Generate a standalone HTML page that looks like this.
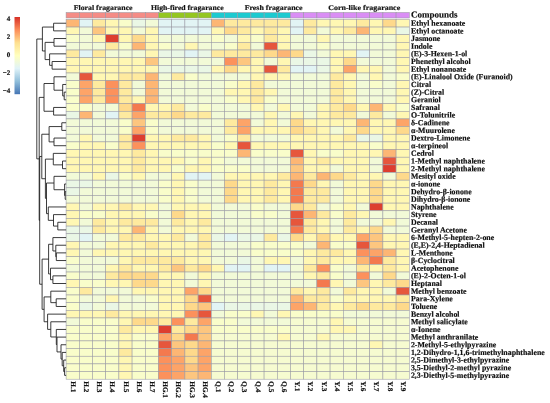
<!DOCTYPE html><html><head><meta charset="utf-8"><title>Heatmap</title>
<style>html,body{margin:0;padding:0;background:#fff}svg{display:block}text{font-family:"Liberation Serif",serif;font-weight:bold;fill:#111;stroke:#111;stroke-width:0.18px;text-rendering:geometricPrecision}</style></head><body>
<svg width="550" height="403" viewBox="0 0 550 403">
<rect width="550" height="403" fill="#fff"/>
<defs><linearGradient id="lg" x1="0" y1="0" x2="0" y2="1">
<stop offset="0.0000" stop-color="#D73027"/>
<stop offset="0.1667" stop-color="#FC8D59"/>
<stop offset="0.3333" stop-color="#FEE090"/>
<stop offset="0.5000" stop-color="#FFFFBF"/>
<stop offset="0.6667" stop-color="#E0F3F8"/>
<stop offset="0.8333" stop-color="#91BFDB"/>
<stop offset="1.0000" stop-color="#4575B4"/>
</linearGradient></defs>
<rect x="14.5" y="17.0" width="5.5" height="77.2" fill="url(#lg)"/>
<text x="10.3" y="20.80" font-size="7" text-anchor="end">4</text>
<text x="10.3" y="38.80" font-size="7" text-anchor="end">2</text>
<text x="10.3" y="56.80" font-size="7" text-anchor="end">0</text>
<text x="10.3" y="74.80" font-size="7" text-anchor="end">−2</text>
<text x="10.3" y="92.80" font-size="7" text-anchor="end">−4</text>
<rect x="66.10" y="12.5" width="13.20" height="5.5" fill="#F58C86" stroke="#9a9aa4" stroke-width="0.55"/>
<rect x="79.30" y="12.5" width="13.20" height="5.5" fill="#F58C86" stroke="#9a9aa4" stroke-width="0.55"/>
<rect x="92.50" y="12.5" width="13.20" height="5.5" fill="#F58C86" stroke="#9a9aa4" stroke-width="0.55"/>
<rect x="105.70" y="12.5" width="13.20" height="5.5" fill="#F58C86" stroke="#9a9aa4" stroke-width="0.55"/>
<rect x="118.90" y="12.5" width="13.20" height="5.5" fill="#F58C86" stroke="#9a9aa4" stroke-width="0.55"/>
<rect x="132.10" y="12.5" width="13.20" height="5.5" fill="#F58C86" stroke="#9a9aa4" stroke-width="0.55"/>
<rect x="145.30" y="12.5" width="13.20" height="5.5" fill="#F58C86" stroke="#9a9aa4" stroke-width="0.55"/>
<rect x="158.50" y="12.5" width="13.20" height="5.5" fill="#94C620" stroke="#9a9aa4" stroke-width="0.55"/>
<rect x="171.70" y="12.5" width="13.20" height="5.5" fill="#94C620" stroke="#9a9aa4" stroke-width="0.55"/>
<rect x="184.90" y="12.5" width="13.20" height="5.5" fill="#94C620" stroke="#9a9aa4" stroke-width="0.55"/>
<rect x="198.10" y="12.5" width="13.20" height="5.5" fill="#94C620" stroke="#9a9aa4" stroke-width="0.55"/>
<rect x="211.30" y="12.5" width="13.20" height="5.5" fill="#1CCAD0" stroke="#9a9aa4" stroke-width="0.55"/>
<rect x="224.50" y="12.5" width="13.20" height="5.5" fill="#1CCAD0" stroke="#9a9aa4" stroke-width="0.55"/>
<rect x="237.70" y="12.5" width="13.20" height="5.5" fill="#1CCAD0" stroke="#9a9aa4" stroke-width="0.55"/>
<rect x="250.90" y="12.5" width="13.20" height="5.5" fill="#1CCAD0" stroke="#9a9aa4" stroke-width="0.55"/>
<rect x="264.10" y="12.5" width="13.20" height="5.5" fill="#1CCAD0" stroke="#9a9aa4" stroke-width="0.55"/>
<rect x="277.30" y="12.5" width="13.20" height="5.5" fill="#1CCAD0" stroke="#9a9aa4" stroke-width="0.55"/>
<rect x="290.50" y="12.5" width="13.20" height="5.5" fill="#DA8EF5" stroke="#9a9aa4" stroke-width="0.55"/>
<rect x="303.70" y="12.5" width="13.20" height="5.5" fill="#DA8EF5" stroke="#9a9aa4" stroke-width="0.55"/>
<rect x="316.90" y="12.5" width="13.20" height="5.5" fill="#DA8EF5" stroke="#9a9aa4" stroke-width="0.55"/>
<rect x="330.10" y="12.5" width="13.20" height="5.5" fill="#DA8EF5" stroke="#9a9aa4" stroke-width="0.55"/>
<rect x="343.30" y="12.5" width="13.20" height="5.5" fill="#DA8EF5" stroke="#9a9aa4" stroke-width="0.55"/>
<rect x="356.50" y="12.5" width="13.20" height="5.5" fill="#DA8EF5" stroke="#9a9aa4" stroke-width="0.55"/>
<rect x="369.70" y="12.5" width="13.20" height="5.5" fill="#DA8EF5" stroke="#9a9aa4" stroke-width="0.55"/>
<rect x="382.90" y="12.5" width="13.20" height="5.5" fill="#DA8EF5" stroke="#9a9aa4" stroke-width="0.55"/>
<rect x="396.10" y="12.5" width="13.20" height="5.5" fill="#DA8EF5" stroke="#9a9aa4" stroke-width="0.55"/>
<text x="103.15" y="9.7" font-size="7.2" text-anchor="middle" textLength="58.9" lengthAdjust="spacingAndGlyphs">Floral fragarance</text>
<text x="187.30" y="9.7" font-size="7.2" text-anchor="middle" textLength="72.6" lengthAdjust="spacingAndGlyphs">High-fired fragarance</text>
<text x="273.65" y="9.7" font-size="7.2" text-anchor="middle" textLength="57.9" lengthAdjust="spacingAndGlyphs">Fresh fragarance</text>
<text x="364.20" y="9.7" font-size="7.2" text-anchor="middle" textLength="72.0" lengthAdjust="spacingAndGlyphs">Corn-like fragarance</text>
<rect x="66.10" y="19.40" width="13.20" height="7.66" fill="#fdb674" stroke="#9a9aa4" stroke-width="0.55"/>
<rect x="79.30" y="19.40" width="13.20" height="7.66" fill="#e2f4f4" stroke="#9a9aa4" stroke-width="0.55"/>
<rect x="92.50" y="19.40" width="13.20" height="7.66" fill="#feea9f" stroke="#9a9aa4" stroke-width="0.55"/>
<rect x="105.70" y="19.40" width="13.20" height="7.66" fill="#fff7b3" stroke="#9a9aa4" stroke-width="0.55"/>
<rect x="118.90" y="19.40" width="13.20" height="7.66" fill="#f9fdca" stroke="#9a9aa4" stroke-width="0.55"/>
<rect x="132.10" y="19.40" width="13.20" height="7.66" fill="#eaf7e5" stroke="#9a9aa4" stroke-width="0.55"/>
<rect x="145.30" y="19.40" width="13.20" height="7.66" fill="#f2fad7" stroke="#9a9aa4" stroke-width="0.55"/>
<rect x="158.50" y="19.40" width="13.20" height="7.66" fill="#e2f4f4" stroke="#9a9aa4" stroke-width="0.55"/>
<rect x="171.70" y="19.40" width="13.20" height="7.66" fill="#e2f4f4" stroke="#9a9aa4" stroke-width="0.55"/>
<rect x="184.90" y="19.40" width="13.20" height="7.66" fill="#e2f4f4" stroke="#9a9aa4" stroke-width="0.55"/>
<rect x="198.10" y="19.40" width="13.20" height="7.66" fill="#e2f4f4" stroke="#9a9aa4" stroke-width="0.55"/>
<rect x="211.30" y="19.40" width="13.20" height="7.66" fill="#fdb674" stroke="#9a9aa4" stroke-width="0.55"/>
<rect x="224.50" y="19.40" width="13.20" height="7.66" fill="#feea9f" stroke="#9a9aa4" stroke-width="0.55"/>
<rect x="237.70" y="19.40" width="13.20" height="7.66" fill="#feea9f" stroke="#9a9aa4" stroke-width="0.55"/>
<rect x="250.90" y="19.40" width="13.20" height="7.66" fill="#feea9f" stroke="#9a9aa4" stroke-width="0.55"/>
<rect x="264.10" y="19.40" width="13.20" height="7.66" fill="#feea9f" stroke="#9a9aa4" stroke-width="0.55"/>
<rect x="277.30" y="19.40" width="13.20" height="7.66" fill="#feea9f" stroke="#9a9aa4" stroke-width="0.55"/>
<rect x="290.50" y="19.40" width="13.20" height="7.66" fill="#e2f4f4" stroke="#9a9aa4" stroke-width="0.55"/>
<rect x="303.70" y="19.40" width="13.20" height="7.66" fill="#feea9f" stroke="#9a9aa4" stroke-width="0.55"/>
<rect x="316.90" y="19.40" width="13.20" height="7.66" fill="#fff7b3" stroke="#9a9aa4" stroke-width="0.55"/>
<rect x="330.10" y="19.40" width="13.20" height="7.66" fill="#fff7b3" stroke="#9a9aa4" stroke-width="0.55"/>
<rect x="343.30" y="19.40" width="13.20" height="7.66" fill="#fff7b3" stroke="#9a9aa4" stroke-width="0.55"/>
<rect x="356.50" y="19.40" width="13.20" height="7.66" fill="#feea9f" stroke="#9a9aa4" stroke-width="0.55"/>
<rect x="369.70" y="19.40" width="13.20" height="7.66" fill="#fff7b3" stroke="#9a9aa4" stroke-width="0.55"/>
<rect x="382.90" y="19.40" width="13.20" height="7.66" fill="#fed98b" stroke="#9a9aa4" stroke-width="0.55"/>
<rect x="396.10" y="19.40" width="13.20" height="7.66" fill="#fff7b3" stroke="#9a9aa4" stroke-width="0.55"/>
<rect x="66.10" y="27.06" width="13.20" height="7.66" fill="#fff7b3" stroke="#9a9aa4" stroke-width="0.55"/>
<rect x="79.30" y="27.06" width="13.20" height="7.66" fill="#f2fad7" stroke="#9a9aa4" stroke-width="0.55"/>
<rect x="92.50" y="27.06" width="13.20" height="7.66" fill="#fdc67f" stroke="#9a9aa4" stroke-width="0.55"/>
<rect x="105.70" y="27.06" width="13.20" height="7.66" fill="#fff7b3" stroke="#9a9aa4" stroke-width="0.55"/>
<rect x="118.90" y="27.06" width="13.20" height="7.66" fill="#fff7b3" stroke="#9a9aa4" stroke-width="0.55"/>
<rect x="132.10" y="27.06" width="13.20" height="7.66" fill="#f2fad7" stroke="#9a9aa4" stroke-width="0.55"/>
<rect x="145.30" y="27.06" width="13.20" height="7.66" fill="#fff7b3" stroke="#9a9aa4" stroke-width="0.55"/>
<rect x="158.50" y="27.06" width="13.20" height="7.66" fill="#e2f4f4" stroke="#9a9aa4" stroke-width="0.55"/>
<rect x="171.70" y="27.06" width="13.20" height="7.66" fill="#e2f4f4" stroke="#9a9aa4" stroke-width="0.55"/>
<rect x="184.90" y="27.06" width="13.20" height="7.66" fill="#e2f4f4" stroke="#9a9aa4" stroke-width="0.55"/>
<rect x="198.10" y="27.06" width="13.20" height="7.66" fill="#e2f4f4" stroke="#9a9aa4" stroke-width="0.55"/>
<rect x="211.30" y="27.06" width="13.20" height="7.66" fill="#fff7b3" stroke="#9a9aa4" stroke-width="0.55"/>
<rect x="224.50" y="27.06" width="13.20" height="7.66" fill="#fed98b" stroke="#9a9aa4" stroke-width="0.55"/>
<rect x="237.70" y="27.06" width="13.20" height="7.66" fill="#feea9f" stroke="#9a9aa4" stroke-width="0.55"/>
<rect x="250.90" y="27.06" width="13.20" height="7.66" fill="#fff7b3" stroke="#9a9aa4" stroke-width="0.55"/>
<rect x="264.10" y="27.06" width="13.20" height="7.66" fill="#feea9f" stroke="#9a9aa4" stroke-width="0.55"/>
<rect x="277.30" y="27.06" width="13.20" height="7.66" fill="#fff7b3" stroke="#9a9aa4" stroke-width="0.55"/>
<rect x="290.50" y="27.06" width="13.20" height="7.66" fill="#e2f4f4" stroke="#9a9aa4" stroke-width="0.55"/>
<rect x="303.70" y="27.06" width="13.20" height="7.66" fill="#feea9f" stroke="#9a9aa4" stroke-width="0.55"/>
<rect x="316.90" y="27.06" width="13.20" height="7.66" fill="#f2fad7" stroke="#9a9aa4" stroke-width="0.55"/>
<rect x="330.10" y="27.06" width="13.20" height="7.66" fill="#fff7b3" stroke="#9a9aa4" stroke-width="0.55"/>
<rect x="343.30" y="27.06" width="13.20" height="7.66" fill="#feea9f" stroke="#9a9aa4" stroke-width="0.55"/>
<rect x="356.50" y="27.06" width="13.20" height="7.66" fill="#fdb674" stroke="#9a9aa4" stroke-width="0.55"/>
<rect x="369.70" y="27.06" width="13.20" height="7.66" fill="#fff7b3" stroke="#9a9aa4" stroke-width="0.55"/>
<rect x="382.90" y="27.06" width="13.20" height="7.66" fill="#fff7b3" stroke="#9a9aa4" stroke-width="0.55"/>
<rect x="396.10" y="27.06" width="13.20" height="7.66" fill="#eaf7e5" stroke="#9a9aa4" stroke-width="0.55"/>
<rect x="66.10" y="34.71" width="13.20" height="7.66" fill="#f9fdca" stroke="#9a9aa4" stroke-width="0.55"/>
<rect x="79.30" y="34.71" width="13.20" height="7.66" fill="#f2fad7" stroke="#9a9aa4" stroke-width="0.55"/>
<rect x="92.50" y="34.71" width="13.20" height="7.66" fill="#fff7b3" stroke="#9a9aa4" stroke-width="0.55"/>
<rect x="105.70" y="34.71" width="13.20" height="7.66" fill="#dd3e2f" stroke="#9a9aa4" stroke-width="0.55"/>
<rect x="118.90" y="34.71" width="13.20" height="7.66" fill="#fff7b3" stroke="#9a9aa4" stroke-width="0.55"/>
<rect x="132.10" y="34.71" width="13.20" height="7.66" fill="#fed98b" stroke="#9a9aa4" stroke-width="0.55"/>
<rect x="145.30" y="34.71" width="13.20" height="7.66" fill="#fff7b3" stroke="#9a9aa4" stroke-width="0.55"/>
<rect x="158.50" y="34.71" width="13.20" height="7.66" fill="#f2fad7" stroke="#9a9aa4" stroke-width="0.55"/>
<rect x="171.70" y="34.71" width="13.20" height="7.66" fill="#f2fad7" stroke="#9a9aa4" stroke-width="0.55"/>
<rect x="184.90" y="34.71" width="13.20" height="7.66" fill="#f2fad7" stroke="#9a9aa4" stroke-width="0.55"/>
<rect x="198.10" y="34.71" width="13.20" height="7.66" fill="#f2fad7" stroke="#9a9aa4" stroke-width="0.55"/>
<rect x="211.30" y="34.71" width="13.20" height="7.66" fill="#f9fdca" stroke="#9a9aa4" stroke-width="0.55"/>
<rect x="224.50" y="34.71" width="13.20" height="7.66" fill="#f2fad7" stroke="#9a9aa4" stroke-width="0.55"/>
<rect x="237.70" y="34.71" width="13.20" height="7.66" fill="#fff7b3" stroke="#9a9aa4" stroke-width="0.55"/>
<rect x="250.90" y="34.71" width="13.20" height="7.66" fill="#f9fdca" stroke="#9a9aa4" stroke-width="0.55"/>
<rect x="264.10" y="34.71" width="13.20" height="7.66" fill="#feea9f" stroke="#9a9aa4" stroke-width="0.55"/>
<rect x="277.30" y="34.71" width="13.20" height="7.66" fill="#fff7b3" stroke="#9a9aa4" stroke-width="0.55"/>
<rect x="290.50" y="34.71" width="13.20" height="7.66" fill="#f2fad7" stroke="#9a9aa4" stroke-width="0.55"/>
<rect x="303.70" y="34.71" width="13.20" height="7.66" fill="#f2fad7" stroke="#9a9aa4" stroke-width="0.55"/>
<rect x="316.90" y="34.71" width="13.20" height="7.66" fill="#fff7b3" stroke="#9a9aa4" stroke-width="0.55"/>
<rect x="330.10" y="34.71" width="13.20" height="7.66" fill="#f2fad7" stroke="#9a9aa4" stroke-width="0.55"/>
<rect x="343.30" y="34.71" width="13.20" height="7.66" fill="#f2fad7" stroke="#9a9aa4" stroke-width="0.55"/>
<rect x="356.50" y="34.71" width="13.20" height="7.66" fill="#f2fad7" stroke="#9a9aa4" stroke-width="0.55"/>
<rect x="369.70" y="34.71" width="13.20" height="7.66" fill="#f2fad7" stroke="#9a9aa4" stroke-width="0.55"/>
<rect x="382.90" y="34.71" width="13.20" height="7.66" fill="#f2fad7" stroke="#9a9aa4" stroke-width="0.55"/>
<rect x="396.10" y="34.71" width="13.20" height="7.66" fill="#fff7b3" stroke="#9a9aa4" stroke-width="0.55"/>
<rect x="66.10" y="42.37" width="13.20" height="7.66" fill="#f2fad7" stroke="#9a9aa4" stroke-width="0.55"/>
<rect x="79.30" y="42.37" width="13.20" height="7.66" fill="#f2fad7" stroke="#9a9aa4" stroke-width="0.55"/>
<rect x="92.50" y="42.37" width="13.20" height="7.66" fill="#f2fad7" stroke="#9a9aa4" stroke-width="0.55"/>
<rect x="105.70" y="42.37" width="13.20" height="7.66" fill="#feea9f" stroke="#9a9aa4" stroke-width="0.55"/>
<rect x="118.90" y="42.37" width="13.20" height="7.66" fill="#f9fdca" stroke="#9a9aa4" stroke-width="0.55"/>
<rect x="132.10" y="42.37" width="13.20" height="7.66" fill="#fdb674" stroke="#9a9aa4" stroke-width="0.55"/>
<rect x="145.30" y="42.37" width="13.20" height="7.66" fill="#fff7b3" stroke="#9a9aa4" stroke-width="0.55"/>
<rect x="158.50" y="42.37" width="13.20" height="7.66" fill="#f9fdca" stroke="#9a9aa4" stroke-width="0.55"/>
<rect x="171.70" y="42.37" width="13.20" height="7.66" fill="#f2fad7" stroke="#9a9aa4" stroke-width="0.55"/>
<rect x="184.90" y="42.37" width="13.20" height="7.66" fill="#fff7b3" stroke="#9a9aa4" stroke-width="0.55"/>
<rect x="198.10" y="42.37" width="13.20" height="7.66" fill="#f2fad7" stroke="#9a9aa4" stroke-width="0.55"/>
<rect x="211.30" y="42.37" width="13.20" height="7.66" fill="#f2fad7" stroke="#9a9aa4" stroke-width="0.55"/>
<rect x="224.50" y="42.37" width="13.20" height="7.66" fill="#f9fdca" stroke="#9a9aa4" stroke-width="0.55"/>
<rect x="237.70" y="42.37" width="13.20" height="7.66" fill="#feea9f" stroke="#9a9aa4" stroke-width="0.55"/>
<rect x="250.90" y="42.37" width="13.20" height="7.66" fill="#f2fad7" stroke="#9a9aa4" stroke-width="0.55"/>
<rect x="264.10" y="42.37" width="13.20" height="7.66" fill="#e6563c" stroke="#9a9aa4" stroke-width="0.55"/>
<rect x="277.30" y="42.37" width="13.20" height="7.66" fill="#fff7b3" stroke="#9a9aa4" stroke-width="0.55"/>
<rect x="290.50" y="42.37" width="13.20" height="7.66" fill="#f2fad7" stroke="#9a9aa4" stroke-width="0.55"/>
<rect x="303.70" y="42.37" width="13.20" height="7.66" fill="#f2fad7" stroke="#9a9aa4" stroke-width="0.55"/>
<rect x="316.90" y="42.37" width="13.20" height="7.66" fill="#f9fdca" stroke="#9a9aa4" stroke-width="0.55"/>
<rect x="330.10" y="42.37" width="13.20" height="7.66" fill="#f2fad7" stroke="#9a9aa4" stroke-width="0.55"/>
<rect x="343.30" y="42.37" width="13.20" height="7.66" fill="#f2fad7" stroke="#9a9aa4" stroke-width="0.55"/>
<rect x="356.50" y="42.37" width="13.20" height="7.66" fill="#f2fad7" stroke="#9a9aa4" stroke-width="0.55"/>
<rect x="369.70" y="42.37" width="13.20" height="7.66" fill="#f2fad7" stroke="#9a9aa4" stroke-width="0.55"/>
<rect x="382.90" y="42.37" width="13.20" height="7.66" fill="#f2fad7" stroke="#9a9aa4" stroke-width="0.55"/>
<rect x="396.10" y="42.37" width="13.20" height="7.66" fill="#fff7b3" stroke="#9a9aa4" stroke-width="0.55"/>
<rect x="66.10" y="50.02" width="13.20" height="7.66" fill="#feea9f" stroke="#9a9aa4" stroke-width="0.55"/>
<rect x="79.30" y="50.02" width="13.20" height="7.66" fill="#e2f4f4" stroke="#9a9aa4" stroke-width="0.55"/>
<rect x="92.50" y="50.02" width="13.20" height="7.66" fill="#feea9f" stroke="#9a9aa4" stroke-width="0.55"/>
<rect x="105.70" y="50.02" width="13.20" height="7.66" fill="#f2fad7" stroke="#9a9aa4" stroke-width="0.55"/>
<rect x="118.90" y="50.02" width="13.20" height="7.66" fill="#f2fad7" stroke="#9a9aa4" stroke-width="0.55"/>
<rect x="132.10" y="50.02" width="13.20" height="7.66" fill="#f2fad7" stroke="#9a9aa4" stroke-width="0.55"/>
<rect x="145.30" y="50.02" width="13.20" height="7.66" fill="#fff7b3" stroke="#9a9aa4" stroke-width="0.55"/>
<rect x="158.50" y="50.02" width="13.20" height="7.66" fill="#eaf7e5" stroke="#9a9aa4" stroke-width="0.55"/>
<rect x="171.70" y="50.02" width="13.20" height="7.66" fill="#eaf7e5" stroke="#9a9aa4" stroke-width="0.55"/>
<rect x="184.90" y="50.02" width="13.20" height="7.66" fill="#e2f4f4" stroke="#9a9aa4" stroke-width="0.55"/>
<rect x="198.10" y="50.02" width="13.20" height="7.66" fill="#eaf7e5" stroke="#9a9aa4" stroke-width="0.55"/>
<rect x="211.30" y="50.02" width="13.20" height="7.66" fill="#feea9f" stroke="#9a9aa4" stroke-width="0.55"/>
<rect x="224.50" y="50.02" width="13.20" height="7.66" fill="#feea9f" stroke="#9a9aa4" stroke-width="0.55"/>
<rect x="237.70" y="50.02" width="13.20" height="7.66" fill="#feea9f" stroke="#9a9aa4" stroke-width="0.55"/>
<rect x="250.90" y="50.02" width="13.20" height="7.66" fill="#feea9f" stroke="#9a9aa4" stroke-width="0.55"/>
<rect x="264.10" y="50.02" width="13.20" height="7.66" fill="#fed98b" stroke="#9a9aa4" stroke-width="0.55"/>
<rect x="277.30" y="50.02" width="13.20" height="7.66" fill="#fdb674" stroke="#9a9aa4" stroke-width="0.55"/>
<rect x="290.50" y="50.02" width="13.20" height="7.66" fill="#fed98b" stroke="#9a9aa4" stroke-width="0.55"/>
<rect x="303.70" y="50.02" width="13.20" height="7.66" fill="#eaf7e5" stroke="#9a9aa4" stroke-width="0.55"/>
<rect x="316.90" y="50.02" width="13.20" height="7.66" fill="#f2fad7" stroke="#9a9aa4" stroke-width="0.55"/>
<rect x="330.10" y="50.02" width="13.20" height="7.66" fill="#fff7b3" stroke="#9a9aa4" stroke-width="0.55"/>
<rect x="343.30" y="50.02" width="13.20" height="7.66" fill="#fff7b3" stroke="#9a9aa4" stroke-width="0.55"/>
<rect x="356.50" y="50.02" width="13.20" height="7.66" fill="#e2f4f4" stroke="#9a9aa4" stroke-width="0.55"/>
<rect x="369.70" y="50.02" width="13.20" height="7.66" fill="#f2fad7" stroke="#9a9aa4" stroke-width="0.55"/>
<rect x="382.90" y="50.02" width="13.20" height="7.66" fill="#f2fad7" stroke="#9a9aa4" stroke-width="0.55"/>
<rect x="396.10" y="50.02" width="13.20" height="7.66" fill="#fff7b3" stroke="#9a9aa4" stroke-width="0.55"/>
<rect x="66.10" y="57.68" width="13.20" height="7.66" fill="#fff7b3" stroke="#9a9aa4" stroke-width="0.55"/>
<rect x="79.30" y="57.68" width="13.20" height="7.66" fill="#fff7b3" stroke="#9a9aa4" stroke-width="0.55"/>
<rect x="92.50" y="57.68" width="13.20" height="7.66" fill="#fff7b3" stroke="#9a9aa4" stroke-width="0.55"/>
<rect x="105.70" y="57.68" width="13.20" height="7.66" fill="#fff7b3" stroke="#9a9aa4" stroke-width="0.55"/>
<rect x="118.90" y="57.68" width="13.20" height="7.66" fill="#fff7b3" stroke="#9a9aa4" stroke-width="0.55"/>
<rect x="132.10" y="57.68" width="13.20" height="7.66" fill="#fff7b3" stroke="#9a9aa4" stroke-width="0.55"/>
<rect x="145.30" y="57.68" width="13.20" height="7.66" fill="#fdc67f" stroke="#9a9aa4" stroke-width="0.55"/>
<rect x="158.50" y="57.68" width="13.20" height="7.66" fill="#f2fad7" stroke="#9a9aa4" stroke-width="0.55"/>
<rect x="171.70" y="57.68" width="13.20" height="7.66" fill="#f2fad7" stroke="#9a9aa4" stroke-width="0.55"/>
<rect x="184.90" y="57.68" width="13.20" height="7.66" fill="#f2fad7" stroke="#9a9aa4" stroke-width="0.55"/>
<rect x="198.10" y="57.68" width="13.20" height="7.66" fill="#f2fad7" stroke="#9a9aa4" stroke-width="0.55"/>
<rect x="211.30" y="57.68" width="13.20" height="7.66" fill="#f2fad7" stroke="#9a9aa4" stroke-width="0.55"/>
<rect x="224.50" y="57.68" width="13.20" height="7.66" fill="#fc915c" stroke="#9a9aa4" stroke-width="0.55"/>
<rect x="237.70" y="57.68" width="13.20" height="7.66" fill="#fdc67f" stroke="#9a9aa4" stroke-width="0.55"/>
<rect x="250.90" y="57.68" width="13.20" height="7.66" fill="#fff7b3" stroke="#9a9aa4" stroke-width="0.55"/>
<rect x="264.10" y="57.68" width="13.20" height="7.66" fill="#f2fad7" stroke="#9a9aa4" stroke-width="0.55"/>
<rect x="277.30" y="57.68" width="13.20" height="7.66" fill="#fff7b3" stroke="#9a9aa4" stroke-width="0.55"/>
<rect x="290.50" y="57.68" width="13.20" height="7.66" fill="#eaf7e5" stroke="#9a9aa4" stroke-width="0.55"/>
<rect x="303.70" y="57.68" width="13.20" height="7.66" fill="#eaf7e5" stroke="#9a9aa4" stroke-width="0.55"/>
<rect x="316.90" y="57.68" width="13.20" height="7.66" fill="#eaf7e5" stroke="#9a9aa4" stroke-width="0.55"/>
<rect x="330.10" y="57.68" width="13.20" height="7.66" fill="#fff7b3" stroke="#9a9aa4" stroke-width="0.55"/>
<rect x="343.30" y="57.68" width="13.20" height="7.66" fill="#fed98b" stroke="#9a9aa4" stroke-width="0.55"/>
<rect x="356.50" y="57.68" width="13.20" height="7.66" fill="#f2fad7" stroke="#9a9aa4" stroke-width="0.55"/>
<rect x="369.70" y="57.68" width="13.20" height="7.66" fill="#f2fad7" stroke="#9a9aa4" stroke-width="0.55"/>
<rect x="382.90" y="57.68" width="13.20" height="7.66" fill="#f2fad7" stroke="#9a9aa4" stroke-width="0.55"/>
<rect x="396.10" y="57.68" width="13.20" height="7.66" fill="#fff7b3" stroke="#9a9aa4" stroke-width="0.55"/>
<rect x="66.10" y="65.33" width="13.20" height="7.66" fill="#fff7b3" stroke="#9a9aa4" stroke-width="0.55"/>
<rect x="79.30" y="65.33" width="13.20" height="7.66" fill="#fff7b3" stroke="#9a9aa4" stroke-width="0.55"/>
<rect x="92.50" y="65.33" width="13.20" height="7.66" fill="#fff7b3" stroke="#9a9aa4" stroke-width="0.55"/>
<rect x="105.70" y="65.33" width="13.20" height="7.66" fill="#fff7b3" stroke="#9a9aa4" stroke-width="0.55"/>
<rect x="118.90" y="65.33" width="13.20" height="7.66" fill="#fff7b3" stroke="#9a9aa4" stroke-width="0.55"/>
<rect x="132.10" y="65.33" width="13.20" height="7.66" fill="#fff7b3" stroke="#9a9aa4" stroke-width="0.55"/>
<rect x="145.30" y="65.33" width="13.20" height="7.66" fill="#fff7b3" stroke="#9a9aa4" stroke-width="0.55"/>
<rect x="158.50" y="65.33" width="13.20" height="7.66" fill="#eaf7e5" stroke="#9a9aa4" stroke-width="0.55"/>
<rect x="171.70" y="65.33" width="13.20" height="7.66" fill="#eaf7e5" stroke="#9a9aa4" stroke-width="0.55"/>
<rect x="184.90" y="65.33" width="13.20" height="7.66" fill="#eaf7e5" stroke="#9a9aa4" stroke-width="0.55"/>
<rect x="198.10" y="65.33" width="13.20" height="7.66" fill="#eaf7e5" stroke="#9a9aa4" stroke-width="0.55"/>
<rect x="211.30" y="65.33" width="13.20" height="7.66" fill="#fff7b3" stroke="#9a9aa4" stroke-width="0.55"/>
<rect x="224.50" y="65.33" width="13.20" height="7.66" fill="#fed98b" stroke="#9a9aa4" stroke-width="0.55"/>
<rect x="237.70" y="65.33" width="13.20" height="7.66" fill="#fff7b3" stroke="#9a9aa4" stroke-width="0.55"/>
<rect x="250.90" y="65.33" width="13.20" height="7.66" fill="#fff7b3" stroke="#9a9aa4" stroke-width="0.55"/>
<rect x="264.10" y="65.33" width="13.20" height="7.66" fill="#e6563c" stroke="#9a9aa4" stroke-width="0.55"/>
<rect x="277.30" y="65.33" width="13.20" height="7.66" fill="#feea9f" stroke="#9a9aa4" stroke-width="0.55"/>
<rect x="290.50" y="65.33" width="13.20" height="7.66" fill="#e2f4f4" stroke="#9a9aa4" stroke-width="0.55"/>
<rect x="303.70" y="65.33" width="13.20" height="7.66" fill="#e2f4f4" stroke="#9a9aa4" stroke-width="0.55"/>
<rect x="316.90" y="65.33" width="13.20" height="7.66" fill="#eaf7e5" stroke="#9a9aa4" stroke-width="0.55"/>
<rect x="330.10" y="65.33" width="13.20" height="7.66" fill="#fff7b3" stroke="#9a9aa4" stroke-width="0.55"/>
<rect x="343.30" y="65.33" width="13.20" height="7.66" fill="#fda468" stroke="#9a9aa4" stroke-width="0.55"/>
<rect x="356.50" y="65.33" width="13.20" height="7.66" fill="#fff7b3" stroke="#9a9aa4" stroke-width="0.55"/>
<rect x="369.70" y="65.33" width="13.20" height="7.66" fill="#fff7b3" stroke="#9a9aa4" stroke-width="0.55"/>
<rect x="382.90" y="65.33" width="13.20" height="7.66" fill="#f2fad7" stroke="#9a9aa4" stroke-width="0.55"/>
<rect x="396.10" y="65.33" width="13.20" height="7.66" fill="#fff7b3" stroke="#9a9aa4" stroke-width="0.55"/>
<rect x="66.10" y="72.99" width="13.20" height="7.66" fill="#f2fad7" stroke="#9a9aa4" stroke-width="0.55"/>
<rect x="79.30" y="72.99" width="13.20" height="7.66" fill="#e6563c" stroke="#9a9aa4" stroke-width="0.55"/>
<rect x="92.50" y="72.99" width="13.20" height="7.66" fill="#fff7b3" stroke="#9a9aa4" stroke-width="0.55"/>
<rect x="105.70" y="72.99" width="13.20" height="7.66" fill="#fff7b3" stroke="#9a9aa4" stroke-width="0.55"/>
<rect x="118.90" y="72.99" width="13.20" height="7.66" fill="#feea9f" stroke="#9a9aa4" stroke-width="0.55"/>
<rect x="132.10" y="72.99" width="13.20" height="7.66" fill="#feea9f" stroke="#9a9aa4" stroke-width="0.55"/>
<rect x="145.30" y="72.99" width="13.20" height="7.66" fill="#fdb674" stroke="#9a9aa4" stroke-width="0.55"/>
<rect x="158.50" y="72.99" width="13.20" height="7.66" fill="#f2fad7" stroke="#9a9aa4" stroke-width="0.55"/>
<rect x="171.70" y="72.99" width="13.20" height="7.66" fill="#feea9f" stroke="#9a9aa4" stroke-width="0.55"/>
<rect x="184.90" y="72.99" width="13.20" height="7.66" fill="#f9fdca" stroke="#9a9aa4" stroke-width="0.55"/>
<rect x="198.10" y="72.99" width="13.20" height="7.66" fill="#f2fad7" stroke="#9a9aa4" stroke-width="0.55"/>
<rect x="211.30" y="72.99" width="13.20" height="7.66" fill="#f2fad7" stroke="#9a9aa4" stroke-width="0.55"/>
<rect x="224.50" y="72.99" width="13.20" height="7.66" fill="#f2fad7" stroke="#9a9aa4" stroke-width="0.55"/>
<rect x="237.70" y="72.99" width="13.20" height="7.66" fill="#f2fad7" stroke="#9a9aa4" stroke-width="0.55"/>
<rect x="250.90" y="72.99" width="13.20" height="7.66" fill="#fff7b3" stroke="#9a9aa4" stroke-width="0.55"/>
<rect x="264.10" y="72.99" width="13.20" height="7.66" fill="#fff7b3" stroke="#9a9aa4" stroke-width="0.55"/>
<rect x="277.30" y="72.99" width="13.20" height="7.66" fill="#fff7b3" stroke="#9a9aa4" stroke-width="0.55"/>
<rect x="290.50" y="72.99" width="13.20" height="7.66" fill="#f2fad7" stroke="#9a9aa4" stroke-width="0.55"/>
<rect x="303.70" y="72.99" width="13.20" height="7.66" fill="#f2fad7" stroke="#9a9aa4" stroke-width="0.55"/>
<rect x="316.90" y="72.99" width="13.20" height="7.66" fill="#f2fad7" stroke="#9a9aa4" stroke-width="0.55"/>
<rect x="330.10" y="72.99" width="13.20" height="7.66" fill="#feea9f" stroke="#9a9aa4" stroke-width="0.55"/>
<rect x="343.30" y="72.99" width="13.20" height="7.66" fill="#fff7b3" stroke="#9a9aa4" stroke-width="0.55"/>
<rect x="356.50" y="72.99" width="13.20" height="7.66" fill="#f2fad7" stroke="#9a9aa4" stroke-width="0.55"/>
<rect x="369.70" y="72.99" width="13.20" height="7.66" fill="#fff7b3" stroke="#9a9aa4" stroke-width="0.55"/>
<rect x="382.90" y="72.99" width="13.20" height="7.66" fill="#f2fad7" stroke="#9a9aa4" stroke-width="0.55"/>
<rect x="396.10" y="72.99" width="13.20" height="7.66" fill="#f9fdca" stroke="#9a9aa4" stroke-width="0.55"/>
<rect x="66.10" y="80.64" width="13.20" height="7.66" fill="#f9fdca" stroke="#9a9aa4" stroke-width="0.55"/>
<rect x="79.30" y="80.64" width="13.20" height="7.66" fill="#fda468" stroke="#9a9aa4" stroke-width="0.55"/>
<rect x="92.50" y="80.64" width="13.20" height="7.66" fill="#feea9f" stroke="#9a9aa4" stroke-width="0.55"/>
<rect x="105.70" y="80.64" width="13.20" height="7.66" fill="#fc915c" stroke="#9a9aa4" stroke-width="0.55"/>
<rect x="118.90" y="80.64" width="13.20" height="7.66" fill="#feea9f" stroke="#9a9aa4" stroke-width="0.55"/>
<rect x="132.10" y="80.64" width="13.20" height="7.66" fill="#f2fad7" stroke="#9a9aa4" stroke-width="0.55"/>
<rect x="145.30" y="80.64" width="13.20" height="7.66" fill="#fdb674" stroke="#9a9aa4" stroke-width="0.55"/>
<rect x="158.50" y="80.64" width="13.20" height="7.66" fill="#f2fad7" stroke="#9a9aa4" stroke-width="0.55"/>
<rect x="171.70" y="80.64" width="13.20" height="7.66" fill="#f2fad7" stroke="#9a9aa4" stroke-width="0.55"/>
<rect x="184.90" y="80.64" width="13.20" height="7.66" fill="#f2fad7" stroke="#9a9aa4" stroke-width="0.55"/>
<rect x="198.10" y="80.64" width="13.20" height="7.66" fill="#f2fad7" stroke="#9a9aa4" stroke-width="0.55"/>
<rect x="211.30" y="80.64" width="13.20" height="7.66" fill="#f2fad7" stroke="#9a9aa4" stroke-width="0.55"/>
<rect x="224.50" y="80.64" width="13.20" height="7.66" fill="#f9fdca" stroke="#9a9aa4" stroke-width="0.55"/>
<rect x="237.70" y="80.64" width="13.20" height="7.66" fill="#fff7b3" stroke="#9a9aa4" stroke-width="0.55"/>
<rect x="250.90" y="80.64" width="13.20" height="7.66" fill="#feea9f" stroke="#9a9aa4" stroke-width="0.55"/>
<rect x="264.10" y="80.64" width="13.20" height="7.66" fill="#f2fad7" stroke="#9a9aa4" stroke-width="0.55"/>
<rect x="277.30" y="80.64" width="13.20" height="7.66" fill="#f2fad7" stroke="#9a9aa4" stroke-width="0.55"/>
<rect x="290.50" y="80.64" width="13.20" height="7.66" fill="#f2fad7" stroke="#9a9aa4" stroke-width="0.55"/>
<rect x="303.70" y="80.64" width="13.20" height="7.66" fill="#f2fad7" stroke="#9a9aa4" stroke-width="0.55"/>
<rect x="316.90" y="80.64" width="13.20" height="7.66" fill="#f2fad7" stroke="#9a9aa4" stroke-width="0.55"/>
<rect x="330.10" y="80.64" width="13.20" height="7.66" fill="#feea9f" stroke="#9a9aa4" stroke-width="0.55"/>
<rect x="343.30" y="80.64" width="13.20" height="7.66" fill="#fff7b3" stroke="#9a9aa4" stroke-width="0.55"/>
<rect x="356.50" y="80.64" width="13.20" height="7.66" fill="#f2fad7" stroke="#9a9aa4" stroke-width="0.55"/>
<rect x="369.70" y="80.64" width="13.20" height="7.66" fill="#f9fdca" stroke="#9a9aa4" stroke-width="0.55"/>
<rect x="382.90" y="80.64" width="13.20" height="7.66" fill="#f2fad7" stroke="#9a9aa4" stroke-width="0.55"/>
<rect x="396.10" y="80.64" width="13.20" height="7.66" fill="#fff7b3" stroke="#9a9aa4" stroke-width="0.55"/>
<rect x="66.10" y="88.30" width="13.20" height="7.66" fill="#f9fdca" stroke="#9a9aa4" stroke-width="0.55"/>
<rect x="79.30" y="88.30" width="13.20" height="7.66" fill="#fda468" stroke="#9a9aa4" stroke-width="0.55"/>
<rect x="92.50" y="88.30" width="13.20" height="7.66" fill="#feea9f" stroke="#9a9aa4" stroke-width="0.55"/>
<rect x="105.70" y="88.30" width="13.20" height="7.66" fill="#fc915c" stroke="#9a9aa4" stroke-width="0.55"/>
<rect x="118.90" y="88.30" width="13.20" height="7.66" fill="#feea9f" stroke="#9a9aa4" stroke-width="0.55"/>
<rect x="132.10" y="88.30" width="13.20" height="7.66" fill="#f2fad7" stroke="#9a9aa4" stroke-width="0.55"/>
<rect x="145.30" y="88.30" width="13.20" height="7.66" fill="#fdb674" stroke="#9a9aa4" stroke-width="0.55"/>
<rect x="158.50" y="88.30" width="13.20" height="7.66" fill="#f2fad7" stroke="#9a9aa4" stroke-width="0.55"/>
<rect x="171.70" y="88.30" width="13.20" height="7.66" fill="#f2fad7" stroke="#9a9aa4" stroke-width="0.55"/>
<rect x="184.90" y="88.30" width="13.20" height="7.66" fill="#f2fad7" stroke="#9a9aa4" stroke-width="0.55"/>
<rect x="198.10" y="88.30" width="13.20" height="7.66" fill="#f2fad7" stroke="#9a9aa4" stroke-width="0.55"/>
<rect x="211.30" y="88.30" width="13.20" height="7.66" fill="#f2fad7" stroke="#9a9aa4" stroke-width="0.55"/>
<rect x="224.50" y="88.30" width="13.20" height="7.66" fill="#fff7b3" stroke="#9a9aa4" stroke-width="0.55"/>
<rect x="237.70" y="88.30" width="13.20" height="7.66" fill="#fff7b3" stroke="#9a9aa4" stroke-width="0.55"/>
<rect x="250.90" y="88.30" width="13.20" height="7.66" fill="#feea9f" stroke="#9a9aa4" stroke-width="0.55"/>
<rect x="264.10" y="88.30" width="13.20" height="7.66" fill="#fff7b3" stroke="#9a9aa4" stroke-width="0.55"/>
<rect x="277.30" y="88.30" width="13.20" height="7.66" fill="#f2fad7" stroke="#9a9aa4" stroke-width="0.55"/>
<rect x="290.50" y="88.30" width="13.20" height="7.66" fill="#f2fad7" stroke="#9a9aa4" stroke-width="0.55"/>
<rect x="303.70" y="88.30" width="13.20" height="7.66" fill="#f2fad7" stroke="#9a9aa4" stroke-width="0.55"/>
<rect x="316.90" y="88.30" width="13.20" height="7.66" fill="#f2fad7" stroke="#9a9aa4" stroke-width="0.55"/>
<rect x="330.10" y="88.30" width="13.20" height="7.66" fill="#feea9f" stroke="#9a9aa4" stroke-width="0.55"/>
<rect x="343.30" y="88.30" width="13.20" height="7.66" fill="#fff7b3" stroke="#9a9aa4" stroke-width="0.55"/>
<rect x="356.50" y="88.30" width="13.20" height="7.66" fill="#f2fad7" stroke="#9a9aa4" stroke-width="0.55"/>
<rect x="369.70" y="88.30" width="13.20" height="7.66" fill="#f2fad7" stroke="#9a9aa4" stroke-width="0.55"/>
<rect x="382.90" y="88.30" width="13.20" height="7.66" fill="#f2fad7" stroke="#9a9aa4" stroke-width="0.55"/>
<rect x="396.10" y="88.30" width="13.20" height="7.66" fill="#fff7b3" stroke="#9a9aa4" stroke-width="0.55"/>
<rect x="66.10" y="95.95" width="13.20" height="7.66" fill="#f9fdca" stroke="#9a9aa4" stroke-width="0.55"/>
<rect x="79.30" y="95.95" width="13.20" height="7.66" fill="#fda468" stroke="#9a9aa4" stroke-width="0.55"/>
<rect x="92.50" y="95.95" width="13.20" height="7.66" fill="#feea9f" stroke="#9a9aa4" stroke-width="0.55"/>
<rect x="105.70" y="95.95" width="13.20" height="7.66" fill="#fc915c" stroke="#9a9aa4" stroke-width="0.55"/>
<rect x="118.90" y="95.95" width="13.20" height="7.66" fill="#feea9f" stroke="#9a9aa4" stroke-width="0.55"/>
<rect x="132.10" y="95.95" width="13.20" height="7.66" fill="#fff7b3" stroke="#9a9aa4" stroke-width="0.55"/>
<rect x="145.30" y="95.95" width="13.20" height="7.66" fill="#fdb674" stroke="#9a9aa4" stroke-width="0.55"/>
<rect x="158.50" y="95.95" width="13.20" height="7.66" fill="#f2fad7" stroke="#9a9aa4" stroke-width="0.55"/>
<rect x="171.70" y="95.95" width="13.20" height="7.66" fill="#f2fad7" stroke="#9a9aa4" stroke-width="0.55"/>
<rect x="184.90" y="95.95" width="13.20" height="7.66" fill="#f2fad7" stroke="#9a9aa4" stroke-width="0.55"/>
<rect x="198.10" y="95.95" width="13.20" height="7.66" fill="#f2fad7" stroke="#9a9aa4" stroke-width="0.55"/>
<rect x="211.30" y="95.95" width="13.20" height="7.66" fill="#f2fad7" stroke="#9a9aa4" stroke-width="0.55"/>
<rect x="224.50" y="95.95" width="13.20" height="7.66" fill="#f9fdca" stroke="#9a9aa4" stroke-width="0.55"/>
<rect x="237.70" y="95.95" width="13.20" height="7.66" fill="#fff7b3" stroke="#9a9aa4" stroke-width="0.55"/>
<rect x="250.90" y="95.95" width="13.20" height="7.66" fill="#feea9f" stroke="#9a9aa4" stroke-width="0.55"/>
<rect x="264.10" y="95.95" width="13.20" height="7.66" fill="#f9fdca" stroke="#9a9aa4" stroke-width="0.55"/>
<rect x="277.30" y="95.95" width="13.20" height="7.66" fill="#f2fad7" stroke="#9a9aa4" stroke-width="0.55"/>
<rect x="290.50" y="95.95" width="13.20" height="7.66" fill="#f2fad7" stroke="#9a9aa4" stroke-width="0.55"/>
<rect x="303.70" y="95.95" width="13.20" height="7.66" fill="#f2fad7" stroke="#9a9aa4" stroke-width="0.55"/>
<rect x="316.90" y="95.95" width="13.20" height="7.66" fill="#f2fad7" stroke="#9a9aa4" stroke-width="0.55"/>
<rect x="330.10" y="95.95" width="13.20" height="7.66" fill="#feea9f" stroke="#9a9aa4" stroke-width="0.55"/>
<rect x="343.30" y="95.95" width="13.20" height="7.66" fill="#fff7b3" stroke="#9a9aa4" stroke-width="0.55"/>
<rect x="356.50" y="95.95" width="13.20" height="7.66" fill="#f2fad7" stroke="#9a9aa4" stroke-width="0.55"/>
<rect x="369.70" y="95.95" width="13.20" height="7.66" fill="#f2fad7" stroke="#9a9aa4" stroke-width="0.55"/>
<rect x="382.90" y="95.95" width="13.20" height="7.66" fill="#f2fad7" stroke="#9a9aa4" stroke-width="0.55"/>
<rect x="396.10" y="95.95" width="13.20" height="7.66" fill="#fff7b3" stroke="#9a9aa4" stroke-width="0.55"/>
<rect x="66.10" y="103.61" width="13.20" height="7.66" fill="#f9fdca" stroke="#9a9aa4" stroke-width="0.55"/>
<rect x="79.30" y="103.61" width="13.20" height="7.66" fill="#f9fdca" stroke="#9a9aa4" stroke-width="0.55"/>
<rect x="92.50" y="103.61" width="13.20" height="7.66" fill="#f2fad7" stroke="#9a9aa4" stroke-width="0.55"/>
<rect x="105.70" y="103.61" width="13.20" height="7.66" fill="#f2fad7" stroke="#9a9aa4" stroke-width="0.55"/>
<rect x="118.90" y="103.61" width="13.20" height="7.66" fill="#fed98b" stroke="#9a9aa4" stroke-width="0.55"/>
<rect x="132.10" y="103.61" width="13.20" height="7.66" fill="#f4794e" stroke="#9a9aa4" stroke-width="0.55"/>
<rect x="145.30" y="103.61" width="13.20" height="7.66" fill="#fff7b3" stroke="#9a9aa4" stroke-width="0.55"/>
<rect x="158.50" y="103.61" width="13.20" height="7.66" fill="#fff7b3" stroke="#9a9aa4" stroke-width="0.55"/>
<rect x="171.70" y="103.61" width="13.20" height="7.66" fill="#feea9f" stroke="#9a9aa4" stroke-width="0.55"/>
<rect x="184.90" y="103.61" width="13.20" height="7.66" fill="#f2fad7" stroke="#9a9aa4" stroke-width="0.55"/>
<rect x="198.10" y="103.61" width="13.20" height="7.66" fill="#f9fdca" stroke="#9a9aa4" stroke-width="0.55"/>
<rect x="211.30" y="103.61" width="13.20" height="7.66" fill="#f2fad7" stroke="#9a9aa4" stroke-width="0.55"/>
<rect x="224.50" y="103.61" width="13.20" height="7.66" fill="#f2fad7" stroke="#9a9aa4" stroke-width="0.55"/>
<rect x="237.70" y="103.61" width="13.20" height="7.66" fill="#f2fad7" stroke="#9a9aa4" stroke-width="0.55"/>
<rect x="250.90" y="103.61" width="13.20" height="7.66" fill="#fff7b3" stroke="#9a9aa4" stroke-width="0.55"/>
<rect x="264.10" y="103.61" width="13.20" height="7.66" fill="#f2fad7" stroke="#9a9aa4" stroke-width="0.55"/>
<rect x="277.30" y="103.61" width="13.20" height="7.66" fill="#fff7b3" stroke="#9a9aa4" stroke-width="0.55"/>
<rect x="290.50" y="103.61" width="13.20" height="7.66" fill="#f2fad7" stroke="#9a9aa4" stroke-width="0.55"/>
<rect x="303.70" y="103.61" width="13.20" height="7.66" fill="#f2fad7" stroke="#9a9aa4" stroke-width="0.55"/>
<rect x="316.90" y="103.61" width="13.20" height="7.66" fill="#fff7b3" stroke="#9a9aa4" stroke-width="0.55"/>
<rect x="330.10" y="103.61" width="13.20" height="7.66" fill="#feea9f" stroke="#9a9aa4" stroke-width="0.55"/>
<rect x="343.30" y="103.61" width="13.20" height="7.66" fill="#fed98b" stroke="#9a9aa4" stroke-width="0.55"/>
<rect x="356.50" y="103.61" width="13.20" height="7.66" fill="#fff7b3" stroke="#9a9aa4" stroke-width="0.55"/>
<rect x="369.70" y="103.61" width="13.20" height="7.66" fill="#fdb674" stroke="#9a9aa4" stroke-width="0.55"/>
<rect x="382.90" y="103.61" width="13.20" height="7.66" fill="#fff7b3" stroke="#9a9aa4" stroke-width="0.55"/>
<rect x="396.10" y="103.61" width="13.20" height="7.66" fill="#f9fdca" stroke="#9a9aa4" stroke-width="0.55"/>
<rect x="66.10" y="111.26" width="13.20" height="7.66" fill="#eaf7e5" stroke="#9a9aa4" stroke-width="0.55"/>
<rect x="79.30" y="111.26" width="13.20" height="7.66" fill="#fdb674" stroke="#9a9aa4" stroke-width="0.55"/>
<rect x="92.50" y="111.26" width="13.20" height="7.66" fill="#f2fad7" stroke="#9a9aa4" stroke-width="0.55"/>
<rect x="105.70" y="111.26" width="13.20" height="7.66" fill="#e2f4f4" stroke="#9a9aa4" stroke-width="0.55"/>
<rect x="118.90" y="111.26" width="13.20" height="7.66" fill="#feea9f" stroke="#9a9aa4" stroke-width="0.55"/>
<rect x="132.10" y="111.26" width="13.20" height="7.66" fill="#fda468" stroke="#9a9aa4" stroke-width="0.55"/>
<rect x="145.30" y="111.26" width="13.20" height="7.66" fill="#feea9f" stroke="#9a9aa4" stroke-width="0.55"/>
<rect x="158.50" y="111.26" width="13.20" height="7.66" fill="#feea9f" stroke="#9a9aa4" stroke-width="0.55"/>
<rect x="171.70" y="111.26" width="13.20" height="7.66" fill="#fed98b" stroke="#9a9aa4" stroke-width="0.55"/>
<rect x="184.90" y="111.26" width="13.20" height="7.66" fill="#feea9f" stroke="#9a9aa4" stroke-width="0.55"/>
<rect x="198.10" y="111.26" width="13.20" height="7.66" fill="#feea9f" stroke="#9a9aa4" stroke-width="0.55"/>
<rect x="211.30" y="111.26" width="13.20" height="7.66" fill="#f2fad7" stroke="#9a9aa4" stroke-width="0.55"/>
<rect x="224.50" y="111.26" width="13.20" height="7.66" fill="#f2fad7" stroke="#9a9aa4" stroke-width="0.55"/>
<rect x="237.70" y="111.26" width="13.20" height="7.66" fill="#f2fad7" stroke="#9a9aa4" stroke-width="0.55"/>
<rect x="250.90" y="111.26" width="13.20" height="7.66" fill="#f2fad7" stroke="#9a9aa4" stroke-width="0.55"/>
<rect x="264.10" y="111.26" width="13.20" height="7.66" fill="#fff7b3" stroke="#9a9aa4" stroke-width="0.55"/>
<rect x="277.30" y="111.26" width="13.20" height="7.66" fill="#f2fad7" stroke="#9a9aa4" stroke-width="0.55"/>
<rect x="290.50" y="111.26" width="13.20" height="7.66" fill="#fff7b3" stroke="#9a9aa4" stroke-width="0.55"/>
<rect x="303.70" y="111.26" width="13.20" height="7.66" fill="#f2fad7" stroke="#9a9aa4" stroke-width="0.55"/>
<rect x="316.90" y="111.26" width="13.20" height="7.66" fill="#fff7b3" stroke="#9a9aa4" stroke-width="0.55"/>
<rect x="330.10" y="111.26" width="13.20" height="7.66" fill="#feea9f" stroke="#9a9aa4" stroke-width="0.55"/>
<rect x="343.30" y="111.26" width="13.20" height="7.66" fill="#feea9f" stroke="#9a9aa4" stroke-width="0.55"/>
<rect x="356.50" y="111.26" width="13.20" height="7.66" fill="#f2fad7" stroke="#9a9aa4" stroke-width="0.55"/>
<rect x="369.70" y="111.26" width="13.20" height="7.66" fill="#feea9f" stroke="#9a9aa4" stroke-width="0.55"/>
<rect x="382.90" y="111.26" width="13.20" height="7.66" fill="#f2fad7" stroke="#9a9aa4" stroke-width="0.55"/>
<rect x="396.10" y="111.26" width="13.20" height="7.66" fill="#fff7b3" stroke="#9a9aa4" stroke-width="0.55"/>
<rect x="66.10" y="118.92" width="13.20" height="7.66" fill="#f2fad7" stroke="#9a9aa4" stroke-width="0.55"/>
<rect x="79.30" y="118.92" width="13.20" height="7.66" fill="#f2fad7" stroke="#9a9aa4" stroke-width="0.55"/>
<rect x="92.50" y="118.92" width="13.20" height="7.66" fill="#f2fad7" stroke="#9a9aa4" stroke-width="0.55"/>
<rect x="105.70" y="118.92" width="13.20" height="7.66" fill="#f2fad7" stroke="#9a9aa4" stroke-width="0.55"/>
<rect x="118.90" y="118.92" width="13.20" height="7.66" fill="#f9fdca" stroke="#9a9aa4" stroke-width="0.55"/>
<rect x="132.10" y="118.92" width="13.20" height="7.66" fill="#fdc67f" stroke="#9a9aa4" stroke-width="0.55"/>
<rect x="145.30" y="118.92" width="13.20" height="7.66" fill="#f9fdca" stroke="#9a9aa4" stroke-width="0.55"/>
<rect x="158.50" y="118.92" width="13.20" height="7.66" fill="#f2fad7" stroke="#9a9aa4" stroke-width="0.55"/>
<rect x="171.70" y="118.92" width="13.20" height="7.66" fill="#f2fad7" stroke="#9a9aa4" stroke-width="0.55"/>
<rect x="184.90" y="118.92" width="13.20" height="7.66" fill="#f2fad7" stroke="#9a9aa4" stroke-width="0.55"/>
<rect x="198.10" y="118.92" width="13.20" height="7.66" fill="#f2fad7" stroke="#9a9aa4" stroke-width="0.55"/>
<rect x="211.30" y="118.92" width="13.20" height="7.66" fill="#f2fad7" stroke="#9a9aa4" stroke-width="0.55"/>
<rect x="224.50" y="118.92" width="13.20" height="7.66" fill="#feea9f" stroke="#9a9aa4" stroke-width="0.55"/>
<rect x="237.70" y="118.92" width="13.20" height="7.66" fill="#fda468" stroke="#9a9aa4" stroke-width="0.55"/>
<rect x="250.90" y="118.92" width="13.20" height="7.66" fill="#f2fad7" stroke="#9a9aa4" stroke-width="0.55"/>
<rect x="264.10" y="118.92" width="13.20" height="7.66" fill="#fff7b3" stroke="#9a9aa4" stroke-width="0.55"/>
<rect x="277.30" y="118.92" width="13.20" height="7.66" fill="#f2fad7" stroke="#9a9aa4" stroke-width="0.55"/>
<rect x="290.50" y="118.92" width="13.20" height="7.66" fill="#fed98b" stroke="#9a9aa4" stroke-width="0.55"/>
<rect x="303.70" y="118.92" width="13.20" height="7.66" fill="#fff7b3" stroke="#9a9aa4" stroke-width="0.55"/>
<rect x="316.90" y="118.92" width="13.20" height="7.66" fill="#fff7b3" stroke="#9a9aa4" stroke-width="0.55"/>
<rect x="330.10" y="118.92" width="13.20" height="7.66" fill="#fff7b3" stroke="#9a9aa4" stroke-width="0.55"/>
<rect x="343.30" y="118.92" width="13.20" height="7.66" fill="#fff7b3" stroke="#9a9aa4" stroke-width="0.55"/>
<rect x="356.50" y="118.92" width="13.20" height="7.66" fill="#fdb674" stroke="#9a9aa4" stroke-width="0.55"/>
<rect x="369.70" y="118.92" width="13.20" height="7.66" fill="#fff7b3" stroke="#9a9aa4" stroke-width="0.55"/>
<rect x="382.90" y="118.92" width="13.20" height="7.66" fill="#fff7b3" stroke="#9a9aa4" stroke-width="0.55"/>
<rect x="396.10" y="118.92" width="13.20" height="7.66" fill="#fda468" stroke="#9a9aa4" stroke-width="0.55"/>
<rect x="66.10" y="126.57" width="13.20" height="7.66" fill="#f2fad7" stroke="#9a9aa4" stroke-width="0.55"/>
<rect x="79.30" y="126.57" width="13.20" height="7.66" fill="#f2fad7" stroke="#9a9aa4" stroke-width="0.55"/>
<rect x="92.50" y="126.57" width="13.20" height="7.66" fill="#f2fad7" stroke="#9a9aa4" stroke-width="0.55"/>
<rect x="105.70" y="126.57" width="13.20" height="7.66" fill="#f2fad7" stroke="#9a9aa4" stroke-width="0.55"/>
<rect x="118.90" y="126.57" width="13.20" height="7.66" fill="#f9fdca" stroke="#9a9aa4" stroke-width="0.55"/>
<rect x="132.10" y="126.57" width="13.20" height="7.66" fill="#fda468" stroke="#9a9aa4" stroke-width="0.55"/>
<rect x="145.30" y="126.57" width="13.20" height="7.66" fill="#f9fdca" stroke="#9a9aa4" stroke-width="0.55"/>
<rect x="158.50" y="126.57" width="13.20" height="7.66" fill="#f2fad7" stroke="#9a9aa4" stroke-width="0.55"/>
<rect x="171.70" y="126.57" width="13.20" height="7.66" fill="#f2fad7" stroke="#9a9aa4" stroke-width="0.55"/>
<rect x="184.90" y="126.57" width="13.20" height="7.66" fill="#f2fad7" stroke="#9a9aa4" stroke-width="0.55"/>
<rect x="198.10" y="126.57" width="13.20" height="7.66" fill="#f2fad7" stroke="#9a9aa4" stroke-width="0.55"/>
<rect x="211.30" y="126.57" width="13.20" height="7.66" fill="#f2fad7" stroke="#9a9aa4" stroke-width="0.55"/>
<rect x="224.50" y="126.57" width="13.20" height="7.66" fill="#feea9f" stroke="#9a9aa4" stroke-width="0.55"/>
<rect x="237.70" y="126.57" width="13.20" height="7.66" fill="#fda468" stroke="#9a9aa4" stroke-width="0.55"/>
<rect x="250.90" y="126.57" width="13.20" height="7.66" fill="#fff7b3" stroke="#9a9aa4" stroke-width="0.55"/>
<rect x="264.10" y="126.57" width="13.20" height="7.66" fill="#fff7b3" stroke="#9a9aa4" stroke-width="0.55"/>
<rect x="277.30" y="126.57" width="13.20" height="7.66" fill="#fff7b3" stroke="#9a9aa4" stroke-width="0.55"/>
<rect x="290.50" y="126.57" width="13.20" height="7.66" fill="#fed98b" stroke="#9a9aa4" stroke-width="0.55"/>
<rect x="303.70" y="126.57" width="13.20" height="7.66" fill="#feea9f" stroke="#9a9aa4" stroke-width="0.55"/>
<rect x="316.90" y="126.57" width="13.20" height="7.66" fill="#fff7b3" stroke="#9a9aa4" stroke-width="0.55"/>
<rect x="330.10" y="126.57" width="13.20" height="7.66" fill="#f2fad7" stroke="#9a9aa4" stroke-width="0.55"/>
<rect x="343.30" y="126.57" width="13.20" height="7.66" fill="#fff7b3" stroke="#9a9aa4" stroke-width="0.55"/>
<rect x="356.50" y="126.57" width="13.20" height="7.66" fill="#fed98b" stroke="#9a9aa4" stroke-width="0.55"/>
<rect x="369.70" y="126.57" width="13.20" height="7.66" fill="#fff7b3" stroke="#9a9aa4" stroke-width="0.55"/>
<rect x="382.90" y="126.57" width="13.20" height="7.66" fill="#fff7b3" stroke="#9a9aa4" stroke-width="0.55"/>
<rect x="396.10" y="126.57" width="13.20" height="7.66" fill="#fed98b" stroke="#9a9aa4" stroke-width="0.55"/>
<rect x="66.10" y="134.23" width="13.20" height="7.66" fill="#f2fad7" stroke="#9a9aa4" stroke-width="0.55"/>
<rect x="79.30" y="134.23" width="13.20" height="7.66" fill="#fff7b3" stroke="#9a9aa4" stroke-width="0.55"/>
<rect x="92.50" y="134.23" width="13.20" height="7.66" fill="#f2fad7" stroke="#9a9aa4" stroke-width="0.55"/>
<rect x="105.70" y="134.23" width="13.20" height="7.66" fill="#f2fad7" stroke="#9a9aa4" stroke-width="0.55"/>
<rect x="118.90" y="134.23" width="13.20" height="7.66" fill="#feea9f" stroke="#9a9aa4" stroke-width="0.55"/>
<rect x="132.10" y="134.23" width="13.20" height="7.66" fill="#dd3e2f" stroke="#9a9aa4" stroke-width="0.55"/>
<rect x="145.30" y="134.23" width="13.20" height="7.66" fill="#fff7b3" stroke="#9a9aa4" stroke-width="0.55"/>
<rect x="158.50" y="134.23" width="13.20" height="7.66" fill="#fff7b3" stroke="#9a9aa4" stroke-width="0.55"/>
<rect x="171.70" y="134.23" width="13.20" height="7.66" fill="#feea9f" stroke="#9a9aa4" stroke-width="0.55"/>
<rect x="184.90" y="134.23" width="13.20" height="7.66" fill="#feea9f" stroke="#9a9aa4" stroke-width="0.55"/>
<rect x="198.10" y="134.23" width="13.20" height="7.66" fill="#fff7b3" stroke="#9a9aa4" stroke-width="0.55"/>
<rect x="211.30" y="134.23" width="13.20" height="7.66" fill="#f2fad7" stroke="#9a9aa4" stroke-width="0.55"/>
<rect x="224.50" y="134.23" width="13.20" height="7.66" fill="#f9fdca" stroke="#9a9aa4" stroke-width="0.55"/>
<rect x="237.70" y="134.23" width="13.20" height="7.66" fill="#feea9f" stroke="#9a9aa4" stroke-width="0.55"/>
<rect x="250.90" y="134.23" width="13.20" height="7.66" fill="#f2fad7" stroke="#9a9aa4" stroke-width="0.55"/>
<rect x="264.10" y="134.23" width="13.20" height="7.66" fill="#f2fad7" stroke="#9a9aa4" stroke-width="0.55"/>
<rect x="277.30" y="134.23" width="13.20" height="7.66" fill="#f2fad7" stroke="#9a9aa4" stroke-width="0.55"/>
<rect x="290.50" y="134.23" width="13.20" height="7.66" fill="#fff7b3" stroke="#9a9aa4" stroke-width="0.55"/>
<rect x="303.70" y="134.23" width="13.20" height="7.66" fill="#fff7b3" stroke="#9a9aa4" stroke-width="0.55"/>
<rect x="316.90" y="134.23" width="13.20" height="7.66" fill="#fff7b3" stroke="#9a9aa4" stroke-width="0.55"/>
<rect x="330.10" y="134.23" width="13.20" height="7.66" fill="#fff7b3" stroke="#9a9aa4" stroke-width="0.55"/>
<rect x="343.30" y="134.23" width="13.20" height="7.66" fill="#feea9f" stroke="#9a9aa4" stroke-width="0.55"/>
<rect x="356.50" y="134.23" width="13.20" height="7.66" fill="#eaf7e5" stroke="#9a9aa4" stroke-width="0.55"/>
<rect x="369.70" y="134.23" width="13.20" height="7.66" fill="#eaf7e5" stroke="#9a9aa4" stroke-width="0.55"/>
<rect x="382.90" y="134.23" width="13.20" height="7.66" fill="#fff7b3" stroke="#9a9aa4" stroke-width="0.55"/>
<rect x="396.10" y="134.23" width="13.20" height="7.66" fill="#fff7b3" stroke="#9a9aa4" stroke-width="0.55"/>
<rect x="66.10" y="141.89" width="13.20" height="7.66" fill="#f9fdca" stroke="#9a9aa4" stroke-width="0.55"/>
<rect x="79.30" y="141.89" width="13.20" height="7.66" fill="#fff7b3" stroke="#9a9aa4" stroke-width="0.55"/>
<rect x="92.50" y="141.89" width="13.20" height="7.66" fill="#fff7b3" stroke="#9a9aa4" stroke-width="0.55"/>
<rect x="105.70" y="141.89" width="13.20" height="7.66" fill="#f9fdca" stroke="#9a9aa4" stroke-width="0.55"/>
<rect x="118.90" y="141.89" width="13.20" height="7.66" fill="#feea9f" stroke="#9a9aa4" stroke-width="0.55"/>
<rect x="132.10" y="141.89" width="13.20" height="7.66" fill="#fc915c" stroke="#9a9aa4" stroke-width="0.55"/>
<rect x="145.30" y="141.89" width="13.20" height="7.66" fill="#fff7b3" stroke="#9a9aa4" stroke-width="0.55"/>
<rect x="158.50" y="141.89" width="13.20" height="7.66" fill="#fff7b3" stroke="#9a9aa4" stroke-width="0.55"/>
<rect x="171.70" y="141.89" width="13.20" height="7.66" fill="#fff7b3" stroke="#9a9aa4" stroke-width="0.55"/>
<rect x="184.90" y="141.89" width="13.20" height="7.66" fill="#fff7b3" stroke="#9a9aa4" stroke-width="0.55"/>
<rect x="198.10" y="141.89" width="13.20" height="7.66" fill="#fff7b3" stroke="#9a9aa4" stroke-width="0.55"/>
<rect x="211.30" y="141.89" width="13.20" height="7.66" fill="#f9fdca" stroke="#9a9aa4" stroke-width="0.55"/>
<rect x="224.50" y="141.89" width="13.20" height="7.66" fill="#fff7b3" stroke="#9a9aa4" stroke-width="0.55"/>
<rect x="237.70" y="141.89" width="13.20" height="7.66" fill="#e6563c" stroke="#9a9aa4" stroke-width="0.55"/>
<rect x="250.90" y="141.89" width="13.20" height="7.66" fill="#fff7b3" stroke="#9a9aa4" stroke-width="0.55"/>
<rect x="264.10" y="141.89" width="13.20" height="7.66" fill="#fff7b3" stroke="#9a9aa4" stroke-width="0.55"/>
<rect x="277.30" y="141.89" width="13.20" height="7.66" fill="#fff7b3" stroke="#9a9aa4" stroke-width="0.55"/>
<rect x="290.50" y="141.89" width="13.20" height="7.66" fill="#fff7b3" stroke="#9a9aa4" stroke-width="0.55"/>
<rect x="303.70" y="141.89" width="13.20" height="7.66" fill="#fff7b3" stroke="#9a9aa4" stroke-width="0.55"/>
<rect x="316.90" y="141.89" width="13.20" height="7.66" fill="#fff7b3" stroke="#9a9aa4" stroke-width="0.55"/>
<rect x="330.10" y="141.89" width="13.20" height="7.66" fill="#fff7b3" stroke="#9a9aa4" stroke-width="0.55"/>
<rect x="343.30" y="141.89" width="13.20" height="7.66" fill="#fff7b3" stroke="#9a9aa4" stroke-width="0.55"/>
<rect x="356.50" y="141.89" width="13.20" height="7.66" fill="#fff7b3" stroke="#9a9aa4" stroke-width="0.55"/>
<rect x="369.70" y="141.89" width="13.20" height="7.66" fill="#f9fdca" stroke="#9a9aa4" stroke-width="0.55"/>
<rect x="382.90" y="141.89" width="13.20" height="7.66" fill="#fff7b3" stroke="#9a9aa4" stroke-width="0.55"/>
<rect x="396.10" y="141.89" width="13.20" height="7.66" fill="#fff7b3" stroke="#9a9aa4" stroke-width="0.55"/>
<rect x="66.10" y="149.54" width="13.20" height="7.66" fill="#fff7b3" stroke="#9a9aa4" stroke-width="0.55"/>
<rect x="79.30" y="149.54" width="13.20" height="7.66" fill="#fff7b3" stroke="#9a9aa4" stroke-width="0.55"/>
<rect x="92.50" y="149.54" width="13.20" height="7.66" fill="#fff7b3" stroke="#9a9aa4" stroke-width="0.55"/>
<rect x="105.70" y="149.54" width="13.20" height="7.66" fill="#fff7b3" stroke="#9a9aa4" stroke-width="0.55"/>
<rect x="118.90" y="149.54" width="13.20" height="7.66" fill="#fff7b3" stroke="#9a9aa4" stroke-width="0.55"/>
<rect x="132.10" y="149.54" width="13.20" height="7.66" fill="#feea9f" stroke="#9a9aa4" stroke-width="0.55"/>
<rect x="145.30" y="149.54" width="13.20" height="7.66" fill="#fff7b3" stroke="#9a9aa4" stroke-width="0.55"/>
<rect x="158.50" y="149.54" width="13.20" height="7.66" fill="#f9fdca" stroke="#9a9aa4" stroke-width="0.55"/>
<rect x="171.70" y="149.54" width="13.20" height="7.66" fill="#f9fdca" stroke="#9a9aa4" stroke-width="0.55"/>
<rect x="184.90" y="149.54" width="13.20" height="7.66" fill="#f9fdca" stroke="#9a9aa4" stroke-width="0.55"/>
<rect x="198.10" y="149.54" width="13.20" height="7.66" fill="#f9fdca" stroke="#9a9aa4" stroke-width="0.55"/>
<rect x="211.30" y="149.54" width="13.20" height="7.66" fill="#f9fdca" stroke="#9a9aa4" stroke-width="0.55"/>
<rect x="224.50" y="149.54" width="13.20" height="7.66" fill="#f9fdca" stroke="#9a9aa4" stroke-width="0.55"/>
<rect x="237.70" y="149.54" width="13.20" height="7.66" fill="#fdb674" stroke="#9a9aa4" stroke-width="0.55"/>
<rect x="250.90" y="149.54" width="13.20" height="7.66" fill="#f9fdca" stroke="#9a9aa4" stroke-width="0.55"/>
<rect x="264.10" y="149.54" width="13.20" height="7.66" fill="#f9fdca" stroke="#9a9aa4" stroke-width="0.55"/>
<rect x="277.30" y="149.54" width="13.20" height="7.66" fill="#f9fdca" stroke="#9a9aa4" stroke-width="0.55"/>
<rect x="290.50" y="149.54" width="13.20" height="7.66" fill="#e6563c" stroke="#9a9aa4" stroke-width="0.55"/>
<rect x="303.70" y="149.54" width="13.20" height="7.66" fill="#fff7b3" stroke="#9a9aa4" stroke-width="0.55"/>
<rect x="316.90" y="149.54" width="13.20" height="7.66" fill="#f9fdca" stroke="#9a9aa4" stroke-width="0.55"/>
<rect x="330.10" y="149.54" width="13.20" height="7.66" fill="#f9fdca" stroke="#9a9aa4" stroke-width="0.55"/>
<rect x="343.30" y="149.54" width="13.20" height="7.66" fill="#fff7b3" stroke="#9a9aa4" stroke-width="0.55"/>
<rect x="356.50" y="149.54" width="13.20" height="7.66" fill="#fff7b3" stroke="#9a9aa4" stroke-width="0.55"/>
<rect x="369.70" y="149.54" width="13.20" height="7.66" fill="#fff7b3" stroke="#9a9aa4" stroke-width="0.55"/>
<rect x="382.90" y="149.54" width="13.20" height="7.66" fill="#fdb674" stroke="#9a9aa4" stroke-width="0.55"/>
<rect x="396.10" y="149.54" width="13.20" height="7.66" fill="#fff7b3" stroke="#9a9aa4" stroke-width="0.55"/>
<rect x="66.10" y="157.20" width="13.20" height="7.66" fill="#fff7b3" stroke="#9a9aa4" stroke-width="0.55"/>
<rect x="79.30" y="157.20" width="13.20" height="7.66" fill="#fff7b3" stroke="#9a9aa4" stroke-width="0.55"/>
<rect x="92.50" y="157.20" width="13.20" height="7.66" fill="#fff7b3" stroke="#9a9aa4" stroke-width="0.55"/>
<rect x="105.70" y="157.20" width="13.20" height="7.66" fill="#fff7b3" stroke="#9a9aa4" stroke-width="0.55"/>
<rect x="118.90" y="157.20" width="13.20" height="7.66" fill="#fff7b3" stroke="#9a9aa4" stroke-width="0.55"/>
<rect x="132.10" y="157.20" width="13.20" height="7.66" fill="#feea9f" stroke="#9a9aa4" stroke-width="0.55"/>
<rect x="145.30" y="157.20" width="13.20" height="7.66" fill="#fff7b3" stroke="#9a9aa4" stroke-width="0.55"/>
<rect x="158.50" y="157.20" width="13.20" height="7.66" fill="#fff7b3" stroke="#9a9aa4" stroke-width="0.55"/>
<rect x="171.70" y="157.20" width="13.20" height="7.66" fill="#fff7b3" stroke="#9a9aa4" stroke-width="0.55"/>
<rect x="184.90" y="157.20" width="13.20" height="7.66" fill="#f9fdca" stroke="#9a9aa4" stroke-width="0.55"/>
<rect x="198.10" y="157.20" width="13.20" height="7.66" fill="#fff7b3" stroke="#9a9aa4" stroke-width="0.55"/>
<rect x="211.30" y="157.20" width="13.20" height="7.66" fill="#f9fdca" stroke="#9a9aa4" stroke-width="0.55"/>
<rect x="224.50" y="157.20" width="13.20" height="7.66" fill="#f2fad7" stroke="#9a9aa4" stroke-width="0.55"/>
<rect x="237.70" y="157.20" width="13.20" height="7.66" fill="#f2fad7" stroke="#9a9aa4" stroke-width="0.55"/>
<rect x="250.90" y="157.20" width="13.20" height="7.66" fill="#f2fad7" stroke="#9a9aa4" stroke-width="0.55"/>
<rect x="264.10" y="157.20" width="13.20" height="7.66" fill="#f2fad7" stroke="#9a9aa4" stroke-width="0.55"/>
<rect x="277.30" y="157.20" width="13.20" height="7.66" fill="#f2fad7" stroke="#9a9aa4" stroke-width="0.55"/>
<rect x="290.50" y="157.20" width="13.20" height="7.66" fill="#fdb674" stroke="#9a9aa4" stroke-width="0.55"/>
<rect x="303.70" y="157.20" width="13.20" height="7.66" fill="#fff7b3" stroke="#9a9aa4" stroke-width="0.55"/>
<rect x="316.90" y="157.20" width="13.20" height="7.66" fill="#feea9f" stroke="#9a9aa4" stroke-width="0.55"/>
<rect x="330.10" y="157.20" width="13.20" height="7.66" fill="#fff7b3" stroke="#9a9aa4" stroke-width="0.55"/>
<rect x="343.30" y="157.20" width="13.20" height="7.66" fill="#fff7b3" stroke="#9a9aa4" stroke-width="0.55"/>
<rect x="356.50" y="157.20" width="13.20" height="7.66" fill="#fff7b3" stroke="#9a9aa4" stroke-width="0.55"/>
<rect x="369.70" y="157.20" width="13.20" height="7.66" fill="#f2fad7" stroke="#9a9aa4" stroke-width="0.55"/>
<rect x="382.90" y="157.20" width="13.20" height="7.66" fill="#e6563c" stroke="#9a9aa4" stroke-width="0.55"/>
<rect x="396.10" y="157.20" width="13.20" height="7.66" fill="#fff7b3" stroke="#9a9aa4" stroke-width="0.55"/>
<rect x="66.10" y="164.85" width="13.20" height="7.66" fill="#fff7b3" stroke="#9a9aa4" stroke-width="0.55"/>
<rect x="79.30" y="164.85" width="13.20" height="7.66" fill="#fff7b3" stroke="#9a9aa4" stroke-width="0.55"/>
<rect x="92.50" y="164.85" width="13.20" height="7.66" fill="#fff7b3" stroke="#9a9aa4" stroke-width="0.55"/>
<rect x="105.70" y="164.85" width="13.20" height="7.66" fill="#fff7b3" stroke="#9a9aa4" stroke-width="0.55"/>
<rect x="118.90" y="164.85" width="13.20" height="7.66" fill="#fff7b3" stroke="#9a9aa4" stroke-width="0.55"/>
<rect x="132.10" y="164.85" width="13.20" height="7.66" fill="#feea9f" stroke="#9a9aa4" stroke-width="0.55"/>
<rect x="145.30" y="164.85" width="13.20" height="7.66" fill="#fff7b3" stroke="#9a9aa4" stroke-width="0.55"/>
<rect x="158.50" y="164.85" width="13.20" height="7.66" fill="#fff7b3" stroke="#9a9aa4" stroke-width="0.55"/>
<rect x="171.70" y="164.85" width="13.20" height="7.66" fill="#f9fdca" stroke="#9a9aa4" stroke-width="0.55"/>
<rect x="184.90" y="164.85" width="13.20" height="7.66" fill="#fff7b3" stroke="#9a9aa4" stroke-width="0.55"/>
<rect x="198.10" y="164.85" width="13.20" height="7.66" fill="#fff7b3" stroke="#9a9aa4" stroke-width="0.55"/>
<rect x="211.30" y="164.85" width="13.20" height="7.66" fill="#f9fdca" stroke="#9a9aa4" stroke-width="0.55"/>
<rect x="224.50" y="164.85" width="13.20" height="7.66" fill="#f9fdca" stroke="#9a9aa4" stroke-width="0.55"/>
<rect x="237.70" y="164.85" width="13.20" height="7.66" fill="#f9fdca" stroke="#9a9aa4" stroke-width="0.55"/>
<rect x="250.90" y="164.85" width="13.20" height="7.66" fill="#f2fad7" stroke="#9a9aa4" stroke-width="0.55"/>
<rect x="264.10" y="164.85" width="13.20" height="7.66" fill="#f2fad7" stroke="#9a9aa4" stroke-width="0.55"/>
<rect x="277.30" y="164.85" width="13.20" height="7.66" fill="#f2fad7" stroke="#9a9aa4" stroke-width="0.55"/>
<rect x="290.50" y="164.85" width="13.20" height="7.66" fill="#fdc67f" stroke="#9a9aa4" stroke-width="0.55"/>
<rect x="303.70" y="164.85" width="13.20" height="7.66" fill="#fff7b3" stroke="#9a9aa4" stroke-width="0.55"/>
<rect x="316.90" y="164.85" width="13.20" height="7.66" fill="#fff7b3" stroke="#9a9aa4" stroke-width="0.55"/>
<rect x="330.10" y="164.85" width="13.20" height="7.66" fill="#f2fad7" stroke="#9a9aa4" stroke-width="0.55"/>
<rect x="343.30" y="164.85" width="13.20" height="7.66" fill="#fff7b3" stroke="#9a9aa4" stroke-width="0.55"/>
<rect x="356.50" y="164.85" width="13.20" height="7.66" fill="#fff7b3" stroke="#9a9aa4" stroke-width="0.55"/>
<rect x="369.70" y="164.85" width="13.20" height="7.66" fill="#f2fad7" stroke="#9a9aa4" stroke-width="0.55"/>
<rect x="382.90" y="164.85" width="13.20" height="7.66" fill="#dd3e2f" stroke="#9a9aa4" stroke-width="0.55"/>
<rect x="396.10" y="164.85" width="13.20" height="7.66" fill="#fff7b3" stroke="#9a9aa4" stroke-width="0.55"/>
<rect x="66.10" y="172.51" width="13.20" height="7.66" fill="#f2fad7" stroke="#9a9aa4" stroke-width="0.55"/>
<rect x="79.30" y="172.51" width="13.20" height="7.66" fill="#f2fad7" stroke="#9a9aa4" stroke-width="0.55"/>
<rect x="92.50" y="172.51" width="13.20" height="7.66" fill="#fff7b3" stroke="#9a9aa4" stroke-width="0.55"/>
<rect x="105.70" y="172.51" width="13.20" height="7.66" fill="#eaf7e5" stroke="#9a9aa4" stroke-width="0.55"/>
<rect x="118.90" y="172.51" width="13.20" height="7.66" fill="#f9fdca" stroke="#9a9aa4" stroke-width="0.55"/>
<rect x="132.10" y="172.51" width="13.20" height="7.66" fill="#fff7b3" stroke="#9a9aa4" stroke-width="0.55"/>
<rect x="145.30" y="172.51" width="13.20" height="7.66" fill="#f2fad7" stroke="#9a9aa4" stroke-width="0.55"/>
<rect x="158.50" y="172.51" width="13.20" height="7.66" fill="#f2fad7" stroke="#9a9aa4" stroke-width="0.55"/>
<rect x="171.70" y="172.51" width="13.20" height="7.66" fill="#fff7b3" stroke="#9a9aa4" stroke-width="0.55"/>
<rect x="184.90" y="172.51" width="13.20" height="7.66" fill="#e2f4f4" stroke="#9a9aa4" stroke-width="0.55"/>
<rect x="198.10" y="172.51" width="13.20" height="7.66" fill="#e2f4f4" stroke="#9a9aa4" stroke-width="0.55"/>
<rect x="211.30" y="172.51" width="13.20" height="7.66" fill="#f2fad7" stroke="#9a9aa4" stroke-width="0.55"/>
<rect x="224.50" y="172.51" width="13.20" height="7.66" fill="#fff7b3" stroke="#9a9aa4" stroke-width="0.55"/>
<rect x="237.70" y="172.51" width="13.20" height="7.66" fill="#fff7b3" stroke="#9a9aa4" stroke-width="0.55"/>
<rect x="250.90" y="172.51" width="13.20" height="7.66" fill="#fff7b3" stroke="#9a9aa4" stroke-width="0.55"/>
<rect x="264.10" y="172.51" width="13.20" height="7.66" fill="#fff7b3" stroke="#9a9aa4" stroke-width="0.55"/>
<rect x="277.30" y="172.51" width="13.20" height="7.66" fill="#feea9f" stroke="#9a9aa4" stroke-width="0.55"/>
<rect x="290.50" y="172.51" width="13.20" height="7.66" fill="#fdb674" stroke="#9a9aa4" stroke-width="0.55"/>
<rect x="303.70" y="172.51" width="13.20" height="7.66" fill="#feea9f" stroke="#9a9aa4" stroke-width="0.55"/>
<rect x="316.90" y="172.51" width="13.20" height="7.66" fill="#fdb674" stroke="#9a9aa4" stroke-width="0.55"/>
<rect x="330.10" y="172.51" width="13.20" height="7.66" fill="#fed98b" stroke="#9a9aa4" stroke-width="0.55"/>
<rect x="343.30" y="172.51" width="13.20" height="7.66" fill="#feea9f" stroke="#9a9aa4" stroke-width="0.55"/>
<rect x="356.50" y="172.51" width="13.20" height="7.66" fill="#fff7b3" stroke="#9a9aa4" stroke-width="0.55"/>
<rect x="369.70" y="172.51" width="13.20" height="7.66" fill="#fff7b3" stroke="#9a9aa4" stroke-width="0.55"/>
<rect x="382.90" y="172.51" width="13.20" height="7.66" fill="#f2fad7" stroke="#9a9aa4" stroke-width="0.55"/>
<rect x="396.10" y="172.51" width="13.20" height="7.66" fill="#fed98b" stroke="#9a9aa4" stroke-width="0.55"/>
<rect x="66.10" y="180.16" width="13.20" height="7.66" fill="#eaf7e5" stroke="#9a9aa4" stroke-width="0.55"/>
<rect x="79.30" y="180.16" width="13.20" height="7.66" fill="#eaf7e5" stroke="#9a9aa4" stroke-width="0.55"/>
<rect x="92.50" y="180.16" width="13.20" height="7.66" fill="#f2fad7" stroke="#9a9aa4" stroke-width="0.55"/>
<rect x="105.70" y="180.16" width="13.20" height="7.66" fill="#f2fad7" stroke="#9a9aa4" stroke-width="0.55"/>
<rect x="118.90" y="180.16" width="13.20" height="7.66" fill="#f2fad7" stroke="#9a9aa4" stroke-width="0.55"/>
<rect x="132.10" y="180.16" width="13.20" height="7.66" fill="#f2fad7" stroke="#9a9aa4" stroke-width="0.55"/>
<rect x="145.30" y="180.16" width="13.20" height="7.66" fill="#f2fad7" stroke="#9a9aa4" stroke-width="0.55"/>
<rect x="158.50" y="180.16" width="13.20" height="7.66" fill="#f9fdca" stroke="#9a9aa4" stroke-width="0.55"/>
<rect x="171.70" y="180.16" width="13.20" height="7.66" fill="#fff7b3" stroke="#9a9aa4" stroke-width="0.55"/>
<rect x="184.90" y="180.16" width="13.20" height="7.66" fill="#f9fdca" stroke="#9a9aa4" stroke-width="0.55"/>
<rect x="198.10" y="180.16" width="13.20" height="7.66" fill="#f2fad7" stroke="#9a9aa4" stroke-width="0.55"/>
<rect x="211.30" y="180.16" width="13.20" height="7.66" fill="#f2fad7" stroke="#9a9aa4" stroke-width="0.55"/>
<rect x="224.50" y="180.16" width="13.20" height="7.66" fill="#fed98b" stroke="#9a9aa4" stroke-width="0.55"/>
<rect x="237.70" y="180.16" width="13.20" height="7.66" fill="#fff7b3" stroke="#9a9aa4" stroke-width="0.55"/>
<rect x="250.90" y="180.16" width="13.20" height="7.66" fill="#fff7b3" stroke="#9a9aa4" stroke-width="0.55"/>
<rect x="264.10" y="180.16" width="13.20" height="7.66" fill="#feea9f" stroke="#9a9aa4" stroke-width="0.55"/>
<rect x="277.30" y="180.16" width="13.20" height="7.66" fill="#fff7b3" stroke="#9a9aa4" stroke-width="0.55"/>
<rect x="290.50" y="180.16" width="13.20" height="7.66" fill="#f4794e" stroke="#9a9aa4" stroke-width="0.55"/>
<rect x="303.70" y="180.16" width="13.20" height="7.66" fill="#fed98b" stroke="#9a9aa4" stroke-width="0.55"/>
<rect x="316.90" y="180.16" width="13.20" height="7.66" fill="#fff7b3" stroke="#9a9aa4" stroke-width="0.55"/>
<rect x="330.10" y="180.16" width="13.20" height="7.66" fill="#f2fad7" stroke="#9a9aa4" stroke-width="0.55"/>
<rect x="343.30" y="180.16" width="13.20" height="7.66" fill="#fff7b3" stroke="#9a9aa4" stroke-width="0.55"/>
<rect x="356.50" y="180.16" width="13.20" height="7.66" fill="#fff7b3" stroke="#9a9aa4" stroke-width="0.55"/>
<rect x="369.70" y="180.16" width="13.20" height="7.66" fill="#fed98b" stroke="#9a9aa4" stroke-width="0.55"/>
<rect x="382.90" y="180.16" width="13.20" height="7.66" fill="#fff7b3" stroke="#9a9aa4" stroke-width="0.55"/>
<rect x="396.10" y="180.16" width="13.20" height="7.66" fill="#fff7b3" stroke="#9a9aa4" stroke-width="0.55"/>
<rect x="66.10" y="187.82" width="13.20" height="7.66" fill="#eaf7e5" stroke="#9a9aa4" stroke-width="0.55"/>
<rect x="79.30" y="187.82" width="13.20" height="7.66" fill="#f2fad7" stroke="#9a9aa4" stroke-width="0.55"/>
<rect x="92.50" y="187.82" width="13.20" height="7.66" fill="#f2fad7" stroke="#9a9aa4" stroke-width="0.55"/>
<rect x="105.70" y="187.82" width="13.20" height="7.66" fill="#f2fad7" stroke="#9a9aa4" stroke-width="0.55"/>
<rect x="118.90" y="187.82" width="13.20" height="7.66" fill="#f2fad7" stroke="#9a9aa4" stroke-width="0.55"/>
<rect x="132.10" y="187.82" width="13.20" height="7.66" fill="#f2fad7" stroke="#9a9aa4" stroke-width="0.55"/>
<rect x="145.30" y="187.82" width="13.20" height="7.66" fill="#f2fad7" stroke="#9a9aa4" stroke-width="0.55"/>
<rect x="158.50" y="187.82" width="13.20" height="7.66" fill="#f9fdca" stroke="#9a9aa4" stroke-width="0.55"/>
<rect x="171.70" y="187.82" width="13.20" height="7.66" fill="#fff7b3" stroke="#9a9aa4" stroke-width="0.55"/>
<rect x="184.90" y="187.82" width="13.20" height="7.66" fill="#f9fdca" stroke="#9a9aa4" stroke-width="0.55"/>
<rect x="198.10" y="187.82" width="13.20" height="7.66" fill="#f2fad7" stroke="#9a9aa4" stroke-width="0.55"/>
<rect x="211.30" y="187.82" width="13.20" height="7.66" fill="#f2fad7" stroke="#9a9aa4" stroke-width="0.55"/>
<rect x="224.50" y="187.82" width="13.20" height="7.66" fill="#fed98b" stroke="#9a9aa4" stroke-width="0.55"/>
<rect x="237.70" y="187.82" width="13.20" height="7.66" fill="#fff7b3" stroke="#9a9aa4" stroke-width="0.55"/>
<rect x="250.90" y="187.82" width="13.20" height="7.66" fill="#fff7b3" stroke="#9a9aa4" stroke-width="0.55"/>
<rect x="264.10" y="187.82" width="13.20" height="7.66" fill="#feea9f" stroke="#9a9aa4" stroke-width="0.55"/>
<rect x="277.30" y="187.82" width="13.20" height="7.66" fill="#fff7b3" stroke="#9a9aa4" stroke-width="0.55"/>
<rect x="290.50" y="187.82" width="13.20" height="7.66" fill="#f4794e" stroke="#9a9aa4" stroke-width="0.55"/>
<rect x="303.70" y="187.82" width="13.20" height="7.66" fill="#feea9f" stroke="#9a9aa4" stroke-width="0.55"/>
<rect x="316.90" y="187.82" width="13.20" height="7.66" fill="#feea9f" stroke="#9a9aa4" stroke-width="0.55"/>
<rect x="330.10" y="187.82" width="13.20" height="7.66" fill="#f2fad7" stroke="#9a9aa4" stroke-width="0.55"/>
<rect x="343.30" y="187.82" width="13.20" height="7.66" fill="#fff7b3" stroke="#9a9aa4" stroke-width="0.55"/>
<rect x="356.50" y="187.82" width="13.20" height="7.66" fill="#fff7b3" stroke="#9a9aa4" stroke-width="0.55"/>
<rect x="369.70" y="187.82" width="13.20" height="7.66" fill="#fed98b" stroke="#9a9aa4" stroke-width="0.55"/>
<rect x="382.90" y="187.82" width="13.20" height="7.66" fill="#fff7b3" stroke="#9a9aa4" stroke-width="0.55"/>
<rect x="396.10" y="187.82" width="13.20" height="7.66" fill="#fff7b3" stroke="#9a9aa4" stroke-width="0.55"/>
<rect x="66.10" y="195.47" width="13.20" height="7.66" fill="#f2fad7" stroke="#9a9aa4" stroke-width="0.55"/>
<rect x="79.30" y="195.47" width="13.20" height="7.66" fill="#f2fad7" stroke="#9a9aa4" stroke-width="0.55"/>
<rect x="92.50" y="195.47" width="13.20" height="7.66" fill="#f2fad7" stroke="#9a9aa4" stroke-width="0.55"/>
<rect x="105.70" y="195.47" width="13.20" height="7.66" fill="#f2fad7" stroke="#9a9aa4" stroke-width="0.55"/>
<rect x="118.90" y="195.47" width="13.20" height="7.66" fill="#f2fad7" stroke="#9a9aa4" stroke-width="0.55"/>
<rect x="132.10" y="195.47" width="13.20" height="7.66" fill="#f2fad7" stroke="#9a9aa4" stroke-width="0.55"/>
<rect x="145.30" y="195.47" width="13.20" height="7.66" fill="#f2fad7" stroke="#9a9aa4" stroke-width="0.55"/>
<rect x="158.50" y="195.47" width="13.20" height="7.66" fill="#f9fdca" stroke="#9a9aa4" stroke-width="0.55"/>
<rect x="171.70" y="195.47" width="13.20" height="7.66" fill="#fff7b3" stroke="#9a9aa4" stroke-width="0.55"/>
<rect x="184.90" y="195.47" width="13.20" height="7.66" fill="#f9fdca" stroke="#9a9aa4" stroke-width="0.55"/>
<rect x="198.10" y="195.47" width="13.20" height="7.66" fill="#f2fad7" stroke="#9a9aa4" stroke-width="0.55"/>
<rect x="211.30" y="195.47" width="13.20" height="7.66" fill="#f2fad7" stroke="#9a9aa4" stroke-width="0.55"/>
<rect x="224.50" y="195.47" width="13.20" height="7.66" fill="#fed98b" stroke="#9a9aa4" stroke-width="0.55"/>
<rect x="237.70" y="195.47" width="13.20" height="7.66" fill="#fff7b3" stroke="#9a9aa4" stroke-width="0.55"/>
<rect x="250.90" y="195.47" width="13.20" height="7.66" fill="#fff7b3" stroke="#9a9aa4" stroke-width="0.55"/>
<rect x="264.10" y="195.47" width="13.20" height="7.66" fill="#feea9f" stroke="#9a9aa4" stroke-width="0.55"/>
<rect x="277.30" y="195.47" width="13.20" height="7.66" fill="#fff7b3" stroke="#9a9aa4" stroke-width="0.55"/>
<rect x="290.50" y="195.47" width="13.20" height="7.66" fill="#f4794e" stroke="#9a9aa4" stroke-width="0.55"/>
<rect x="303.70" y="195.47" width="13.20" height="7.66" fill="#feea9f" stroke="#9a9aa4" stroke-width="0.55"/>
<rect x="316.90" y="195.47" width="13.20" height="7.66" fill="#feea9f" stroke="#9a9aa4" stroke-width="0.55"/>
<rect x="330.10" y="195.47" width="13.20" height="7.66" fill="#f2fad7" stroke="#9a9aa4" stroke-width="0.55"/>
<rect x="343.30" y="195.47" width="13.20" height="7.66" fill="#fff7b3" stroke="#9a9aa4" stroke-width="0.55"/>
<rect x="356.50" y="195.47" width="13.20" height="7.66" fill="#fff7b3" stroke="#9a9aa4" stroke-width="0.55"/>
<rect x="369.70" y="195.47" width="13.20" height="7.66" fill="#fed98b" stroke="#9a9aa4" stroke-width="0.55"/>
<rect x="382.90" y="195.47" width="13.20" height="7.66" fill="#fff7b3" stroke="#9a9aa4" stroke-width="0.55"/>
<rect x="396.10" y="195.47" width="13.20" height="7.66" fill="#fff7b3" stroke="#9a9aa4" stroke-width="0.55"/>
<rect x="66.10" y="203.13" width="13.20" height="7.66" fill="#fff7b3" stroke="#9a9aa4" stroke-width="0.55"/>
<rect x="79.30" y="203.13" width="13.20" height="7.66" fill="#f2fad7" stroke="#9a9aa4" stroke-width="0.55"/>
<rect x="92.50" y="203.13" width="13.20" height="7.66" fill="#fff7b3" stroke="#9a9aa4" stroke-width="0.55"/>
<rect x="105.70" y="203.13" width="13.20" height="7.66" fill="#fff7b3" stroke="#9a9aa4" stroke-width="0.55"/>
<rect x="118.90" y="203.13" width="13.20" height="7.66" fill="#feea9f" stroke="#9a9aa4" stroke-width="0.55"/>
<rect x="132.10" y="203.13" width="13.20" height="7.66" fill="#fff7b3" stroke="#9a9aa4" stroke-width="0.55"/>
<rect x="145.30" y="203.13" width="13.20" height="7.66" fill="#fff7b3" stroke="#9a9aa4" stroke-width="0.55"/>
<rect x="158.50" y="203.13" width="13.20" height="7.66" fill="#f2fad7" stroke="#9a9aa4" stroke-width="0.55"/>
<rect x="171.70" y="203.13" width="13.20" height="7.66" fill="#fff7b3" stroke="#9a9aa4" stroke-width="0.55"/>
<rect x="184.90" y="203.13" width="13.20" height="7.66" fill="#fff7b3" stroke="#9a9aa4" stroke-width="0.55"/>
<rect x="198.10" y="203.13" width="13.20" height="7.66" fill="#fff7b3" stroke="#9a9aa4" stroke-width="0.55"/>
<rect x="211.30" y="203.13" width="13.20" height="7.66" fill="#f2fad7" stroke="#9a9aa4" stroke-width="0.55"/>
<rect x="224.50" y="203.13" width="13.20" height="7.66" fill="#f2fad7" stroke="#9a9aa4" stroke-width="0.55"/>
<rect x="237.70" y="203.13" width="13.20" height="7.66" fill="#f2fad7" stroke="#9a9aa4" stroke-width="0.55"/>
<rect x="250.90" y="203.13" width="13.20" height="7.66" fill="#f9fdca" stroke="#9a9aa4" stroke-width="0.55"/>
<rect x="264.10" y="203.13" width="13.20" height="7.66" fill="#f2fad7" stroke="#9a9aa4" stroke-width="0.55"/>
<rect x="277.30" y="203.13" width="13.20" height="7.66" fill="#f2fad7" stroke="#9a9aa4" stroke-width="0.55"/>
<rect x="290.50" y="203.13" width="13.20" height="7.66" fill="#fed98b" stroke="#9a9aa4" stroke-width="0.55"/>
<rect x="303.70" y="203.13" width="13.20" height="7.66" fill="#feea9f" stroke="#9a9aa4" stroke-width="0.55"/>
<rect x="316.90" y="203.13" width="13.20" height="7.66" fill="#f2fad7" stroke="#9a9aa4" stroke-width="0.55"/>
<rect x="330.10" y="203.13" width="13.20" height="7.66" fill="#f9fdca" stroke="#9a9aa4" stroke-width="0.55"/>
<rect x="343.30" y="203.13" width="13.20" height="7.66" fill="#fff7b3" stroke="#9a9aa4" stroke-width="0.55"/>
<rect x="356.50" y="203.13" width="13.20" height="7.66" fill="#f2fad7" stroke="#9a9aa4" stroke-width="0.55"/>
<rect x="369.70" y="203.13" width="13.20" height="7.66" fill="#dd3e2f" stroke="#9a9aa4" stroke-width="0.55"/>
<rect x="382.90" y="203.13" width="13.20" height="7.66" fill="#fff7b3" stroke="#9a9aa4" stroke-width="0.55"/>
<rect x="396.10" y="203.13" width="13.20" height="7.66" fill="#fff7b3" stroke="#9a9aa4" stroke-width="0.55"/>
<rect x="66.10" y="210.78" width="13.20" height="7.66" fill="#fff7b3" stroke="#9a9aa4" stroke-width="0.55"/>
<rect x="79.30" y="210.78" width="13.20" height="7.66" fill="#f9fdca" stroke="#9a9aa4" stroke-width="0.55"/>
<rect x="92.50" y="210.78" width="13.20" height="7.66" fill="#f9fdca" stroke="#9a9aa4" stroke-width="0.55"/>
<rect x="105.70" y="210.78" width="13.20" height="7.66" fill="#fff7b3" stroke="#9a9aa4" stroke-width="0.55"/>
<rect x="118.90" y="210.78" width="13.20" height="7.66" fill="#fff7b3" stroke="#9a9aa4" stroke-width="0.55"/>
<rect x="132.10" y="210.78" width="13.20" height="7.66" fill="#fff7b3" stroke="#9a9aa4" stroke-width="0.55"/>
<rect x="145.30" y="210.78" width="13.20" height="7.66" fill="#f9fdca" stroke="#9a9aa4" stroke-width="0.55"/>
<rect x="158.50" y="210.78" width="13.20" height="7.66" fill="#f2fad7" stroke="#9a9aa4" stroke-width="0.55"/>
<rect x="171.70" y="210.78" width="13.20" height="7.66" fill="#fed98b" stroke="#9a9aa4" stroke-width="0.55"/>
<rect x="184.90" y="210.78" width="13.20" height="7.66" fill="#fff7b3" stroke="#9a9aa4" stroke-width="0.55"/>
<rect x="198.10" y="210.78" width="13.20" height="7.66" fill="#fff7b3" stroke="#9a9aa4" stroke-width="0.55"/>
<rect x="211.30" y="210.78" width="13.20" height="7.66" fill="#f2fad7" stroke="#9a9aa4" stroke-width="0.55"/>
<rect x="224.50" y="210.78" width="13.20" height="7.66" fill="#f2fad7" stroke="#9a9aa4" stroke-width="0.55"/>
<rect x="237.70" y="210.78" width="13.20" height="7.66" fill="#f2fad7" stroke="#9a9aa4" stroke-width="0.55"/>
<rect x="250.90" y="210.78" width="13.20" height="7.66" fill="#f9fdca" stroke="#9a9aa4" stroke-width="0.55"/>
<rect x="264.10" y="210.78" width="13.20" height="7.66" fill="#f9fdca" stroke="#9a9aa4" stroke-width="0.55"/>
<rect x="277.30" y="210.78" width="13.20" height="7.66" fill="#f2fad7" stroke="#9a9aa4" stroke-width="0.55"/>
<rect x="290.50" y="210.78" width="13.20" height="7.66" fill="#e6563c" stroke="#9a9aa4" stroke-width="0.55"/>
<rect x="303.70" y="210.78" width="13.20" height="7.66" fill="#fdb674" stroke="#9a9aa4" stroke-width="0.55"/>
<rect x="316.90" y="210.78" width="13.20" height="7.66" fill="#feea9f" stroke="#9a9aa4" stroke-width="0.55"/>
<rect x="330.10" y="210.78" width="13.20" height="7.66" fill="#f9fdca" stroke="#9a9aa4" stroke-width="0.55"/>
<rect x="343.30" y="210.78" width="13.20" height="7.66" fill="#feea9f" stroke="#9a9aa4" stroke-width="0.55"/>
<rect x="356.50" y="210.78" width="13.20" height="7.66" fill="#fff7b3" stroke="#9a9aa4" stroke-width="0.55"/>
<rect x="369.70" y="210.78" width="13.20" height="7.66" fill="#f2fad7" stroke="#9a9aa4" stroke-width="0.55"/>
<rect x="382.90" y="210.78" width="13.20" height="7.66" fill="#f2fad7" stroke="#9a9aa4" stroke-width="0.55"/>
<rect x="396.10" y="210.78" width="13.20" height="7.66" fill="#f2fad7" stroke="#9a9aa4" stroke-width="0.55"/>
<rect x="66.10" y="218.44" width="13.20" height="7.66" fill="#fff7b3" stroke="#9a9aa4" stroke-width="0.55"/>
<rect x="79.30" y="218.44" width="13.20" height="7.66" fill="#f2fad7" stroke="#9a9aa4" stroke-width="0.55"/>
<rect x="92.50" y="218.44" width="13.20" height="7.66" fill="#feea9f" stroke="#9a9aa4" stroke-width="0.55"/>
<rect x="105.70" y="218.44" width="13.20" height="7.66" fill="#fff7b3" stroke="#9a9aa4" stroke-width="0.55"/>
<rect x="118.90" y="218.44" width="13.20" height="7.66" fill="#feea9f" stroke="#9a9aa4" stroke-width="0.55"/>
<rect x="132.10" y="218.44" width="13.20" height="7.66" fill="#feea9f" stroke="#9a9aa4" stroke-width="0.55"/>
<rect x="145.30" y="218.44" width="13.20" height="7.66" fill="#feea9f" stroke="#9a9aa4" stroke-width="0.55"/>
<rect x="158.50" y="218.44" width="13.20" height="7.66" fill="#f2fad7" stroke="#9a9aa4" stroke-width="0.55"/>
<rect x="171.70" y="218.44" width="13.20" height="7.66" fill="#feea9f" stroke="#9a9aa4" stroke-width="0.55"/>
<rect x="184.90" y="218.44" width="13.20" height="7.66" fill="#fff7b3" stroke="#9a9aa4" stroke-width="0.55"/>
<rect x="198.10" y="218.44" width="13.20" height="7.66" fill="#feea9f" stroke="#9a9aa4" stroke-width="0.55"/>
<rect x="211.30" y="218.44" width="13.20" height="7.66" fill="#f2fad7" stroke="#9a9aa4" stroke-width="0.55"/>
<rect x="224.50" y="218.44" width="13.20" height="7.66" fill="#f2fad7" stroke="#9a9aa4" stroke-width="0.55"/>
<rect x="237.70" y="218.44" width="13.20" height="7.66" fill="#f2fad7" stroke="#9a9aa4" stroke-width="0.55"/>
<rect x="250.90" y="218.44" width="13.20" height="7.66" fill="#f2fad7" stroke="#9a9aa4" stroke-width="0.55"/>
<rect x="264.10" y="218.44" width="13.20" height="7.66" fill="#f2fad7" stroke="#9a9aa4" stroke-width="0.55"/>
<rect x="277.30" y="218.44" width="13.20" height="7.66" fill="#f2fad7" stroke="#9a9aa4" stroke-width="0.55"/>
<rect x="290.50" y="218.44" width="13.20" height="7.66" fill="#e6563c" stroke="#9a9aa4" stroke-width="0.55"/>
<rect x="303.70" y="218.44" width="13.20" height="7.66" fill="#feea9f" stroke="#9a9aa4" stroke-width="0.55"/>
<rect x="316.90" y="218.44" width="13.20" height="7.66" fill="#fff7b3" stroke="#9a9aa4" stroke-width="0.55"/>
<rect x="330.10" y="218.44" width="13.20" height="7.66" fill="#f2fad7" stroke="#9a9aa4" stroke-width="0.55"/>
<rect x="343.30" y="218.44" width="13.20" height="7.66" fill="#feea9f" stroke="#9a9aa4" stroke-width="0.55"/>
<rect x="356.50" y="218.44" width="13.20" height="7.66" fill="#f2fad7" stroke="#9a9aa4" stroke-width="0.55"/>
<rect x="369.70" y="218.44" width="13.20" height="7.66" fill="#f2fad7" stroke="#9a9aa4" stroke-width="0.55"/>
<rect x="382.90" y="218.44" width="13.20" height="7.66" fill="#fff7b3" stroke="#9a9aa4" stroke-width="0.55"/>
<rect x="396.10" y="218.44" width="13.20" height="7.66" fill="#f2fad7" stroke="#9a9aa4" stroke-width="0.55"/>
<rect x="66.10" y="226.09" width="13.20" height="7.66" fill="#eaf7e5" stroke="#9a9aa4" stroke-width="0.55"/>
<rect x="79.30" y="226.09" width="13.20" height="7.66" fill="#eaf7e5" stroke="#9a9aa4" stroke-width="0.55"/>
<rect x="92.50" y="226.09" width="13.20" height="7.66" fill="#feea9f" stroke="#9a9aa4" stroke-width="0.55"/>
<rect x="105.70" y="226.09" width="13.20" height="7.66" fill="#fff7b3" stroke="#9a9aa4" stroke-width="0.55"/>
<rect x="118.90" y="226.09" width="13.20" height="7.66" fill="#fff7b3" stroke="#9a9aa4" stroke-width="0.55"/>
<rect x="132.10" y="226.09" width="13.20" height="7.66" fill="#fdb674" stroke="#9a9aa4" stroke-width="0.55"/>
<rect x="145.30" y="226.09" width="13.20" height="7.66" fill="#fff7b3" stroke="#9a9aa4" stroke-width="0.55"/>
<rect x="158.50" y="226.09" width="13.20" height="7.66" fill="#f2fad7" stroke="#9a9aa4" stroke-width="0.55"/>
<rect x="171.70" y="226.09" width="13.20" height="7.66" fill="#fff7b3" stroke="#9a9aa4" stroke-width="0.55"/>
<rect x="184.90" y="226.09" width="13.20" height="7.66" fill="#fff7b3" stroke="#9a9aa4" stroke-width="0.55"/>
<rect x="198.10" y="226.09" width="13.20" height="7.66" fill="#fff7b3" stroke="#9a9aa4" stroke-width="0.55"/>
<rect x="211.30" y="226.09" width="13.20" height="7.66" fill="#f2fad7" stroke="#9a9aa4" stroke-width="0.55"/>
<rect x="224.50" y="226.09" width="13.20" height="7.66" fill="#f2fad7" stroke="#9a9aa4" stroke-width="0.55"/>
<rect x="237.70" y="226.09" width="13.20" height="7.66" fill="#f2fad7" stroke="#9a9aa4" stroke-width="0.55"/>
<rect x="250.90" y="226.09" width="13.20" height="7.66" fill="#f2fad7" stroke="#9a9aa4" stroke-width="0.55"/>
<rect x="264.10" y="226.09" width="13.20" height="7.66" fill="#f2fad7" stroke="#9a9aa4" stroke-width="0.55"/>
<rect x="277.30" y="226.09" width="13.20" height="7.66" fill="#f2fad7" stroke="#9a9aa4" stroke-width="0.55"/>
<rect x="290.50" y="226.09" width="13.20" height="7.66" fill="#f4794e" stroke="#9a9aa4" stroke-width="0.55"/>
<rect x="303.70" y="226.09" width="13.20" height="7.66" fill="#feea9f" stroke="#9a9aa4" stroke-width="0.55"/>
<rect x="316.90" y="226.09" width="13.20" height="7.66" fill="#fff7b3" stroke="#9a9aa4" stroke-width="0.55"/>
<rect x="330.10" y="226.09" width="13.20" height="7.66" fill="#f2fad7" stroke="#9a9aa4" stroke-width="0.55"/>
<rect x="343.30" y="226.09" width="13.20" height="7.66" fill="#feea9f" stroke="#9a9aa4" stroke-width="0.55"/>
<rect x="356.50" y="226.09" width="13.20" height="7.66" fill="#fff7b3" stroke="#9a9aa4" stroke-width="0.55"/>
<rect x="369.70" y="226.09" width="13.20" height="7.66" fill="#fed98b" stroke="#9a9aa4" stroke-width="0.55"/>
<rect x="382.90" y="226.09" width="13.20" height="7.66" fill="#f2fad7" stroke="#9a9aa4" stroke-width="0.55"/>
<rect x="396.10" y="226.09" width="13.20" height="7.66" fill="#f2fad7" stroke="#9a9aa4" stroke-width="0.55"/>
<rect x="66.10" y="233.75" width="13.20" height="7.66" fill="#eaf7e5" stroke="#9a9aa4" stroke-width="0.55"/>
<rect x="79.30" y="233.75" width="13.20" height="7.66" fill="#e2f4f4" stroke="#9a9aa4" stroke-width="0.55"/>
<rect x="92.50" y="233.75" width="13.20" height="7.66" fill="#f2fad7" stroke="#9a9aa4" stroke-width="0.55"/>
<rect x="105.70" y="233.75" width="13.20" height="7.66" fill="#f2fad7" stroke="#9a9aa4" stroke-width="0.55"/>
<rect x="118.90" y="233.75" width="13.20" height="7.66" fill="#feea9f" stroke="#9a9aa4" stroke-width="0.55"/>
<rect x="132.10" y="233.75" width="13.20" height="7.66" fill="#feea9f" stroke="#9a9aa4" stroke-width="0.55"/>
<rect x="145.30" y="233.75" width="13.20" height="7.66" fill="#fff7b3" stroke="#9a9aa4" stroke-width="0.55"/>
<rect x="158.50" y="233.75" width="13.20" height="7.66" fill="#fff7b3" stroke="#9a9aa4" stroke-width="0.55"/>
<rect x="171.70" y="233.75" width="13.20" height="7.66" fill="#feea9f" stroke="#9a9aa4" stroke-width="0.55"/>
<rect x="184.90" y="233.75" width="13.20" height="7.66" fill="#f2fad7" stroke="#9a9aa4" stroke-width="0.55"/>
<rect x="198.10" y="233.75" width="13.20" height="7.66" fill="#feea9f" stroke="#9a9aa4" stroke-width="0.55"/>
<rect x="211.30" y="233.75" width="13.20" height="7.66" fill="#eaf7e5" stroke="#9a9aa4" stroke-width="0.55"/>
<rect x="224.50" y="233.75" width="13.20" height="7.66" fill="#e2f4f4" stroke="#9a9aa4" stroke-width="0.55"/>
<rect x="237.70" y="233.75" width="13.20" height="7.66" fill="#eaf7e5" stroke="#9a9aa4" stroke-width="0.55"/>
<rect x="250.90" y="233.75" width="13.20" height="7.66" fill="#eaf7e5" stroke="#9a9aa4" stroke-width="0.55"/>
<rect x="264.10" y="233.75" width="13.20" height="7.66" fill="#feea9f" stroke="#9a9aa4" stroke-width="0.55"/>
<rect x="277.30" y="233.75" width="13.20" height="7.66" fill="#eaf7e5" stroke="#9a9aa4" stroke-width="0.55"/>
<rect x="290.50" y="233.75" width="13.20" height="7.66" fill="#fed98b" stroke="#9a9aa4" stroke-width="0.55"/>
<rect x="303.70" y="233.75" width="13.20" height="7.66" fill="#fff7b3" stroke="#9a9aa4" stroke-width="0.55"/>
<rect x="316.90" y="233.75" width="13.20" height="7.66" fill="#fed98b" stroke="#9a9aa4" stroke-width="0.55"/>
<rect x="330.10" y="233.75" width="13.20" height="7.66" fill="#fff7b3" stroke="#9a9aa4" stroke-width="0.55"/>
<rect x="343.30" y="233.75" width="13.20" height="7.66" fill="#fff7b3" stroke="#9a9aa4" stroke-width="0.55"/>
<rect x="356.50" y="233.75" width="13.20" height="7.66" fill="#fda468" stroke="#9a9aa4" stroke-width="0.55"/>
<rect x="369.70" y="233.75" width="13.20" height="7.66" fill="#fdc67f" stroke="#9a9aa4" stroke-width="0.55"/>
<rect x="382.90" y="233.75" width="13.20" height="7.66" fill="#fff7b3" stroke="#9a9aa4" stroke-width="0.55"/>
<rect x="396.10" y="233.75" width="13.20" height="7.66" fill="#fff7b3" stroke="#9a9aa4" stroke-width="0.55"/>
<rect x="66.10" y="241.40" width="13.20" height="7.66" fill="#fff7b3" stroke="#9a9aa4" stroke-width="0.55"/>
<rect x="79.30" y="241.40" width="13.20" height="7.66" fill="#f2fad7" stroke="#9a9aa4" stroke-width="0.55"/>
<rect x="92.50" y="241.40" width="13.20" height="7.66" fill="#f2fad7" stroke="#9a9aa4" stroke-width="0.55"/>
<rect x="105.70" y="241.40" width="13.20" height="7.66" fill="#fff7b3" stroke="#9a9aa4" stroke-width="0.55"/>
<rect x="118.90" y="241.40" width="13.20" height="7.66" fill="#fff7b3" stroke="#9a9aa4" stroke-width="0.55"/>
<rect x="132.10" y="241.40" width="13.20" height="7.66" fill="#fff7b3" stroke="#9a9aa4" stroke-width="0.55"/>
<rect x="145.30" y="241.40" width="13.20" height="7.66" fill="#feea9f" stroke="#9a9aa4" stroke-width="0.55"/>
<rect x="158.50" y="241.40" width="13.20" height="7.66" fill="#fff7b3" stroke="#9a9aa4" stroke-width="0.55"/>
<rect x="171.70" y="241.40" width="13.20" height="7.66" fill="#fff7b3" stroke="#9a9aa4" stroke-width="0.55"/>
<rect x="184.90" y="241.40" width="13.20" height="7.66" fill="#fff7b3" stroke="#9a9aa4" stroke-width="0.55"/>
<rect x="198.10" y="241.40" width="13.20" height="7.66" fill="#feea9f" stroke="#9a9aa4" stroke-width="0.55"/>
<rect x="211.30" y="241.40" width="13.20" height="7.66" fill="#f2fad7" stroke="#9a9aa4" stroke-width="0.55"/>
<rect x="224.50" y="241.40" width="13.20" height="7.66" fill="#f2fad7" stroke="#9a9aa4" stroke-width="0.55"/>
<rect x="237.70" y="241.40" width="13.20" height="7.66" fill="#f2fad7" stroke="#9a9aa4" stroke-width="0.55"/>
<rect x="250.90" y="241.40" width="13.20" height="7.66" fill="#f9fdca" stroke="#9a9aa4" stroke-width="0.55"/>
<rect x="264.10" y="241.40" width="13.20" height="7.66" fill="#f9fdca" stroke="#9a9aa4" stroke-width="0.55"/>
<rect x="277.30" y="241.40" width="13.20" height="7.66" fill="#f9fdca" stroke="#9a9aa4" stroke-width="0.55"/>
<rect x="290.50" y="241.40" width="13.20" height="7.66" fill="#f9fdca" stroke="#9a9aa4" stroke-width="0.55"/>
<rect x="303.70" y="241.40" width="13.20" height="7.66" fill="#f2fad7" stroke="#9a9aa4" stroke-width="0.55"/>
<rect x="316.90" y="241.40" width="13.20" height="7.66" fill="#fdb674" stroke="#9a9aa4" stroke-width="0.55"/>
<rect x="330.10" y="241.40" width="13.20" height="7.66" fill="#f9fdca" stroke="#9a9aa4" stroke-width="0.55"/>
<rect x="343.30" y="241.40" width="13.20" height="7.66" fill="#f9fdca" stroke="#9a9aa4" stroke-width="0.55"/>
<rect x="356.50" y="241.40" width="13.20" height="7.66" fill="#e6563c" stroke="#9a9aa4" stroke-width="0.55"/>
<rect x="369.70" y="241.40" width="13.20" height="7.66" fill="#fdc67f" stroke="#9a9aa4" stroke-width="0.55"/>
<rect x="382.90" y="241.40" width="13.20" height="7.66" fill="#fff7b3" stroke="#9a9aa4" stroke-width="0.55"/>
<rect x="396.10" y="241.40" width="13.20" height="7.66" fill="#fff7b3" stroke="#9a9aa4" stroke-width="0.55"/>
<rect x="66.10" y="249.06" width="13.20" height="7.66" fill="#fff7b3" stroke="#9a9aa4" stroke-width="0.55"/>
<rect x="79.30" y="249.06" width="13.20" height="7.66" fill="#f2fad7" stroke="#9a9aa4" stroke-width="0.55"/>
<rect x="92.50" y="249.06" width="13.20" height="7.66" fill="#fff7b3" stroke="#9a9aa4" stroke-width="0.55"/>
<rect x="105.70" y="249.06" width="13.20" height="7.66" fill="#fff7b3" stroke="#9a9aa4" stroke-width="0.55"/>
<rect x="118.90" y="249.06" width="13.20" height="7.66" fill="#fff7b3" stroke="#9a9aa4" stroke-width="0.55"/>
<rect x="132.10" y="249.06" width="13.20" height="7.66" fill="#fff7b3" stroke="#9a9aa4" stroke-width="0.55"/>
<rect x="145.30" y="249.06" width="13.20" height="7.66" fill="#fff7b3" stroke="#9a9aa4" stroke-width="0.55"/>
<rect x="158.50" y="249.06" width="13.20" height="7.66" fill="#fff7b3" stroke="#9a9aa4" stroke-width="0.55"/>
<rect x="171.70" y="249.06" width="13.20" height="7.66" fill="#fff7b3" stroke="#9a9aa4" stroke-width="0.55"/>
<rect x="184.90" y="249.06" width="13.20" height="7.66" fill="#fff7b3" stroke="#9a9aa4" stroke-width="0.55"/>
<rect x="198.10" y="249.06" width="13.20" height="7.66" fill="#fff7b3" stroke="#9a9aa4" stroke-width="0.55"/>
<rect x="211.30" y="249.06" width="13.20" height="7.66" fill="#f2fad7" stroke="#9a9aa4" stroke-width="0.55"/>
<rect x="224.50" y="249.06" width="13.20" height="7.66" fill="#f2fad7" stroke="#9a9aa4" stroke-width="0.55"/>
<rect x="237.70" y="249.06" width="13.20" height="7.66" fill="#f2fad7" stroke="#9a9aa4" stroke-width="0.55"/>
<rect x="250.90" y="249.06" width="13.20" height="7.66" fill="#f9fdca" stroke="#9a9aa4" stroke-width="0.55"/>
<rect x="264.10" y="249.06" width="13.20" height="7.66" fill="#f9fdca" stroke="#9a9aa4" stroke-width="0.55"/>
<rect x="277.30" y="249.06" width="13.20" height="7.66" fill="#f9fdca" stroke="#9a9aa4" stroke-width="0.55"/>
<rect x="290.50" y="249.06" width="13.20" height="7.66" fill="#f9fdca" stroke="#9a9aa4" stroke-width="0.55"/>
<rect x="303.70" y="249.06" width="13.20" height="7.66" fill="#fff7b3" stroke="#9a9aa4" stroke-width="0.55"/>
<rect x="316.90" y="249.06" width="13.20" height="7.66" fill="#feea9f" stroke="#9a9aa4" stroke-width="0.55"/>
<rect x="330.10" y="249.06" width="13.20" height="7.66" fill="#feea9f" stroke="#9a9aa4" stroke-width="0.55"/>
<rect x="343.30" y="249.06" width="13.20" height="7.66" fill="#fff7b3" stroke="#9a9aa4" stroke-width="0.55"/>
<rect x="356.50" y="249.06" width="13.20" height="7.66" fill="#fc915c" stroke="#9a9aa4" stroke-width="0.55"/>
<rect x="369.70" y="249.06" width="13.20" height="7.66" fill="#fda468" stroke="#9a9aa4" stroke-width="0.55"/>
<rect x="382.90" y="249.06" width="13.20" height="7.66" fill="#fdb674" stroke="#9a9aa4" stroke-width="0.55"/>
<rect x="396.10" y="249.06" width="13.20" height="7.66" fill="#fff7b3" stroke="#9a9aa4" stroke-width="0.55"/>
<rect x="66.10" y="256.71" width="13.20" height="7.66" fill="#f9fdca" stroke="#9a9aa4" stroke-width="0.55"/>
<rect x="79.30" y="256.71" width="13.20" height="7.66" fill="#f2fad7" stroke="#9a9aa4" stroke-width="0.55"/>
<rect x="92.50" y="256.71" width="13.20" height="7.66" fill="#f2fad7" stroke="#9a9aa4" stroke-width="0.55"/>
<rect x="105.70" y="256.71" width="13.20" height="7.66" fill="#f2fad7" stroke="#9a9aa4" stroke-width="0.55"/>
<rect x="118.90" y="256.71" width="13.20" height="7.66" fill="#fff7b3" stroke="#9a9aa4" stroke-width="0.55"/>
<rect x="132.10" y="256.71" width="13.20" height="7.66" fill="#feea9f" stroke="#9a9aa4" stroke-width="0.55"/>
<rect x="145.30" y="256.71" width="13.20" height="7.66" fill="#feea9f" stroke="#9a9aa4" stroke-width="0.55"/>
<rect x="158.50" y="256.71" width="13.20" height="7.66" fill="#feea9f" stroke="#9a9aa4" stroke-width="0.55"/>
<rect x="171.70" y="256.71" width="13.20" height="7.66" fill="#feea9f" stroke="#9a9aa4" stroke-width="0.55"/>
<rect x="184.90" y="256.71" width="13.20" height="7.66" fill="#fff7b3" stroke="#9a9aa4" stroke-width="0.55"/>
<rect x="198.10" y="256.71" width="13.20" height="7.66" fill="#fff7b3" stroke="#9a9aa4" stroke-width="0.55"/>
<rect x="211.30" y="256.71" width="13.20" height="7.66" fill="#f2fad7" stroke="#9a9aa4" stroke-width="0.55"/>
<rect x="224.50" y="256.71" width="13.20" height="7.66" fill="#f2fad7" stroke="#9a9aa4" stroke-width="0.55"/>
<rect x="237.70" y="256.71" width="13.20" height="7.66" fill="#eaf7e5" stroke="#9a9aa4" stroke-width="0.55"/>
<rect x="250.90" y="256.71" width="13.20" height="7.66" fill="#f2fad7" stroke="#9a9aa4" stroke-width="0.55"/>
<rect x="264.10" y="256.71" width="13.20" height="7.66" fill="#fff7b3" stroke="#9a9aa4" stroke-width="0.55"/>
<rect x="277.30" y="256.71" width="13.20" height="7.66" fill="#fff7b3" stroke="#9a9aa4" stroke-width="0.55"/>
<rect x="290.50" y="256.71" width="13.20" height="7.66" fill="#f2fad7" stroke="#9a9aa4" stroke-width="0.55"/>
<rect x="303.70" y="256.71" width="13.20" height="7.66" fill="#fff7b3" stroke="#9a9aa4" stroke-width="0.55"/>
<rect x="316.90" y="256.71" width="13.20" height="7.66" fill="#feea9f" stroke="#9a9aa4" stroke-width="0.55"/>
<rect x="330.10" y="256.71" width="13.20" height="7.66" fill="#fff7b3" stroke="#9a9aa4" stroke-width="0.55"/>
<rect x="343.30" y="256.71" width="13.20" height="7.66" fill="#fff7b3" stroke="#9a9aa4" stroke-width="0.55"/>
<rect x="356.50" y="256.71" width="13.20" height="7.66" fill="#fdb674" stroke="#9a9aa4" stroke-width="0.55"/>
<rect x="369.70" y="256.71" width="13.20" height="7.66" fill="#f4794e" stroke="#9a9aa4" stroke-width="0.55"/>
<rect x="382.90" y="256.71" width="13.20" height="7.66" fill="#feea9f" stroke="#9a9aa4" stroke-width="0.55"/>
<rect x="396.10" y="256.71" width="13.20" height="7.66" fill="#fff7b3" stroke="#9a9aa4" stroke-width="0.55"/>
<rect x="66.10" y="264.37" width="13.20" height="7.66" fill="#f2fad7" stroke="#9a9aa4" stroke-width="0.55"/>
<rect x="79.30" y="264.37" width="13.20" height="7.66" fill="#f2fad7" stroke="#9a9aa4" stroke-width="0.55"/>
<rect x="92.50" y="264.37" width="13.20" height="7.66" fill="#f2fad7" stroke="#9a9aa4" stroke-width="0.55"/>
<rect x="105.70" y="264.37" width="13.20" height="7.66" fill="#fff7b3" stroke="#9a9aa4" stroke-width="0.55"/>
<rect x="118.90" y="264.37" width="13.20" height="7.66" fill="#feea9f" stroke="#9a9aa4" stroke-width="0.55"/>
<rect x="132.10" y="264.37" width="13.20" height="7.66" fill="#fff7b3" stroke="#9a9aa4" stroke-width="0.55"/>
<rect x="145.30" y="264.37" width="13.20" height="7.66" fill="#fff7b3" stroke="#9a9aa4" stroke-width="0.55"/>
<rect x="158.50" y="264.37" width="13.20" height="7.66" fill="#feea9f" stroke="#9a9aa4" stroke-width="0.55"/>
<rect x="171.70" y="264.37" width="13.20" height="7.66" fill="#fdc67f" stroke="#9a9aa4" stroke-width="0.55"/>
<rect x="184.90" y="264.37" width="13.20" height="7.66" fill="#feea9f" stroke="#9a9aa4" stroke-width="0.55"/>
<rect x="198.10" y="264.37" width="13.20" height="7.66" fill="#fed98b" stroke="#9a9aa4" stroke-width="0.55"/>
<rect x="211.30" y="264.37" width="13.20" height="7.66" fill="#fff7b3" stroke="#9a9aa4" stroke-width="0.55"/>
<rect x="224.50" y="264.37" width="13.20" height="7.66" fill="#e2f4f4" stroke="#9a9aa4" stroke-width="0.55"/>
<rect x="237.70" y="264.37" width="13.20" height="7.66" fill="#e2f4f4" stroke="#9a9aa4" stroke-width="0.55"/>
<rect x="250.90" y="264.37" width="13.20" height="7.66" fill="#f2fad7" stroke="#9a9aa4" stroke-width="0.55"/>
<rect x="264.10" y="264.37" width="13.20" height="7.66" fill="#e2f4f4" stroke="#9a9aa4" stroke-width="0.55"/>
<rect x="277.30" y="264.37" width="13.20" height="7.66" fill="#e2f4f4" stroke="#9a9aa4" stroke-width="0.55"/>
<rect x="290.50" y="264.37" width="13.20" height="7.66" fill="#f2fad7" stroke="#9a9aa4" stroke-width="0.55"/>
<rect x="303.70" y="264.37" width="13.20" height="7.66" fill="#feea9f" stroke="#9a9aa4" stroke-width="0.55"/>
<rect x="316.90" y="264.37" width="13.20" height="7.66" fill="#fc915c" stroke="#9a9aa4" stroke-width="0.55"/>
<rect x="330.10" y="264.37" width="13.20" height="7.66" fill="#f9fdca" stroke="#9a9aa4" stroke-width="0.55"/>
<rect x="343.30" y="264.37" width="13.20" height="7.66" fill="#f2fad7" stroke="#9a9aa4" stroke-width="0.55"/>
<rect x="356.50" y="264.37" width="13.20" height="7.66" fill="#feea9f" stroke="#9a9aa4" stroke-width="0.55"/>
<rect x="369.70" y="264.37" width="13.20" height="7.66" fill="#fff7b3" stroke="#9a9aa4" stroke-width="0.55"/>
<rect x="382.90" y="264.37" width="13.20" height="7.66" fill="#feea9f" stroke="#9a9aa4" stroke-width="0.55"/>
<rect x="396.10" y="264.37" width="13.20" height="7.66" fill="#fff7b3" stroke="#9a9aa4" stroke-width="0.55"/>
<rect x="66.10" y="272.03" width="13.20" height="7.66" fill="#f9fdca" stroke="#9a9aa4" stroke-width="0.55"/>
<rect x="79.30" y="272.03" width="13.20" height="7.66" fill="#f2fad7" stroke="#9a9aa4" stroke-width="0.55"/>
<rect x="92.50" y="272.03" width="13.20" height="7.66" fill="#f2fad7" stroke="#9a9aa4" stroke-width="0.55"/>
<rect x="105.70" y="272.03" width="13.20" height="7.66" fill="#feea9f" stroke="#9a9aa4" stroke-width="0.55"/>
<rect x="118.90" y="272.03" width="13.20" height="7.66" fill="#fed98b" stroke="#9a9aa4" stroke-width="0.55"/>
<rect x="132.10" y="272.03" width="13.20" height="7.66" fill="#fed98b" stroke="#9a9aa4" stroke-width="0.55"/>
<rect x="145.30" y="272.03" width="13.20" height="7.66" fill="#fed98b" stroke="#9a9aa4" stroke-width="0.55"/>
<rect x="158.50" y="272.03" width="13.20" height="7.66" fill="#fff7b3" stroke="#9a9aa4" stroke-width="0.55"/>
<rect x="171.70" y="272.03" width="13.20" height="7.66" fill="#fff7b3" stroke="#9a9aa4" stroke-width="0.55"/>
<rect x="184.90" y="272.03" width="13.20" height="7.66" fill="#f2fad7" stroke="#9a9aa4" stroke-width="0.55"/>
<rect x="198.10" y="272.03" width="13.20" height="7.66" fill="#fff7b3" stroke="#9a9aa4" stroke-width="0.55"/>
<rect x="211.30" y="272.03" width="13.20" height="7.66" fill="#f2fad7" stroke="#9a9aa4" stroke-width="0.55"/>
<rect x="224.50" y="272.03" width="13.20" height="7.66" fill="#f2fad7" stroke="#9a9aa4" stroke-width="0.55"/>
<rect x="237.70" y="272.03" width="13.20" height="7.66" fill="#f2fad7" stroke="#9a9aa4" stroke-width="0.55"/>
<rect x="250.90" y="272.03" width="13.20" height="7.66" fill="#f2fad7" stroke="#9a9aa4" stroke-width="0.55"/>
<rect x="264.10" y="272.03" width="13.20" height="7.66" fill="#f2fad7" stroke="#9a9aa4" stroke-width="0.55"/>
<rect x="277.30" y="272.03" width="13.20" height="7.66" fill="#f2fad7" stroke="#9a9aa4" stroke-width="0.55"/>
<rect x="290.50" y="272.03" width="13.20" height="7.66" fill="#f2fad7" stroke="#9a9aa4" stroke-width="0.55"/>
<rect x="303.70" y="272.03" width="13.20" height="7.66" fill="#fff7b3" stroke="#9a9aa4" stroke-width="0.55"/>
<rect x="316.90" y="272.03" width="13.20" height="7.66" fill="#feea9f" stroke="#9a9aa4" stroke-width="0.55"/>
<rect x="330.10" y="272.03" width="13.20" height="7.66" fill="#f9fdca" stroke="#9a9aa4" stroke-width="0.55"/>
<rect x="343.30" y="272.03" width="13.20" height="7.66" fill="#f2fad7" stroke="#9a9aa4" stroke-width="0.55"/>
<rect x="356.50" y="272.03" width="13.20" height="7.66" fill="#fc915c" stroke="#9a9aa4" stroke-width="0.55"/>
<rect x="369.70" y="272.03" width="13.20" height="7.66" fill="#f2fad7" stroke="#9a9aa4" stroke-width="0.55"/>
<rect x="382.90" y="272.03" width="13.20" height="7.66" fill="#fed98b" stroke="#9a9aa4" stroke-width="0.55"/>
<rect x="396.10" y="272.03" width="13.20" height="7.66" fill="#f2fad7" stroke="#9a9aa4" stroke-width="0.55"/>
<rect x="66.10" y="279.68" width="13.20" height="7.66" fill="#fff7b3" stroke="#9a9aa4" stroke-width="0.55"/>
<rect x="79.30" y="279.68" width="13.20" height="7.66" fill="#f9fdca" stroke="#9a9aa4" stroke-width="0.55"/>
<rect x="92.50" y="279.68" width="13.20" height="7.66" fill="#f9fdca" stroke="#9a9aa4" stroke-width="0.55"/>
<rect x="105.70" y="279.68" width="13.20" height="7.66" fill="#fff7b3" stroke="#9a9aa4" stroke-width="0.55"/>
<rect x="118.90" y="279.68" width="13.20" height="7.66" fill="#fff7b3" stroke="#9a9aa4" stroke-width="0.55"/>
<rect x="132.10" y="279.68" width="13.20" height="7.66" fill="#fed98b" stroke="#9a9aa4" stroke-width="0.55"/>
<rect x="145.30" y="279.68" width="13.20" height="7.66" fill="#fed98b" stroke="#9a9aa4" stroke-width="0.55"/>
<rect x="158.50" y="279.68" width="13.20" height="7.66" fill="#fff7b3" stroke="#9a9aa4" stroke-width="0.55"/>
<rect x="171.70" y="279.68" width="13.20" height="7.66" fill="#fff7b3" stroke="#9a9aa4" stroke-width="0.55"/>
<rect x="184.90" y="279.68" width="13.20" height="7.66" fill="#f2fad7" stroke="#9a9aa4" stroke-width="0.55"/>
<rect x="198.10" y="279.68" width="13.20" height="7.66" fill="#fff7b3" stroke="#9a9aa4" stroke-width="0.55"/>
<rect x="211.30" y="279.68" width="13.20" height="7.66" fill="#f2fad7" stroke="#9a9aa4" stroke-width="0.55"/>
<rect x="224.50" y="279.68" width="13.20" height="7.66" fill="#f2fad7" stroke="#9a9aa4" stroke-width="0.55"/>
<rect x="237.70" y="279.68" width="13.20" height="7.66" fill="#f2fad7" stroke="#9a9aa4" stroke-width="0.55"/>
<rect x="250.90" y="279.68" width="13.20" height="7.66" fill="#f2fad7" stroke="#9a9aa4" stroke-width="0.55"/>
<rect x="264.10" y="279.68" width="13.20" height="7.66" fill="#f2fad7" stroke="#9a9aa4" stroke-width="0.55"/>
<rect x="277.30" y="279.68" width="13.20" height="7.66" fill="#f2fad7" stroke="#9a9aa4" stroke-width="0.55"/>
<rect x="290.50" y="279.68" width="13.20" height="7.66" fill="#f2fad7" stroke="#9a9aa4" stroke-width="0.55"/>
<rect x="303.70" y="279.68" width="13.20" height="7.66" fill="#f2fad7" stroke="#9a9aa4" stroke-width="0.55"/>
<rect x="316.90" y="279.68" width="13.20" height="7.66" fill="#f4794e" stroke="#9a9aa4" stroke-width="0.55"/>
<rect x="330.10" y="279.68" width="13.20" height="7.66" fill="#fff7b3" stroke="#9a9aa4" stroke-width="0.55"/>
<rect x="343.30" y="279.68" width="13.20" height="7.66" fill="#f2fad7" stroke="#9a9aa4" stroke-width="0.55"/>
<rect x="356.50" y="279.68" width="13.20" height="7.66" fill="#fdc67f" stroke="#9a9aa4" stroke-width="0.55"/>
<rect x="369.70" y="279.68" width="13.20" height="7.66" fill="#fff7b3" stroke="#9a9aa4" stroke-width="0.55"/>
<rect x="382.90" y="279.68" width="13.20" height="7.66" fill="#feea9f" stroke="#9a9aa4" stroke-width="0.55"/>
<rect x="396.10" y="279.68" width="13.20" height="7.66" fill="#fed98b" stroke="#9a9aa4" stroke-width="0.55"/>
<rect x="66.10" y="287.34" width="13.20" height="7.66" fill="#f9fdca" stroke="#9a9aa4" stroke-width="0.55"/>
<rect x="79.30" y="287.34" width="13.20" height="7.66" fill="#feea9f" stroke="#9a9aa4" stroke-width="0.55"/>
<rect x="92.50" y="287.34" width="13.20" height="7.66" fill="#f2fad7" stroke="#9a9aa4" stroke-width="0.55"/>
<rect x="105.70" y="287.34" width="13.20" height="7.66" fill="#f2fad7" stroke="#9a9aa4" stroke-width="0.55"/>
<rect x="118.90" y="287.34" width="13.20" height="7.66" fill="#f2fad7" stroke="#9a9aa4" stroke-width="0.55"/>
<rect x="132.10" y="287.34" width="13.20" height="7.66" fill="#fff7b3" stroke="#9a9aa4" stroke-width="0.55"/>
<rect x="145.30" y="287.34" width="13.20" height="7.66" fill="#fff7b3" stroke="#9a9aa4" stroke-width="0.55"/>
<rect x="158.50" y="287.34" width="13.20" height="7.66" fill="#fff7b3" stroke="#9a9aa4" stroke-width="0.55"/>
<rect x="171.70" y="287.34" width="13.20" height="7.66" fill="#fff7b3" stroke="#9a9aa4" stroke-width="0.55"/>
<rect x="184.90" y="287.34" width="13.20" height="7.66" fill="#fda468" stroke="#9a9aa4" stroke-width="0.55"/>
<rect x="198.10" y="287.34" width="13.20" height="7.66" fill="#fed98b" stroke="#9a9aa4" stroke-width="0.55"/>
<rect x="211.30" y="287.34" width="13.20" height="7.66" fill="#f2fad7" stroke="#9a9aa4" stroke-width="0.55"/>
<rect x="224.50" y="287.34" width="13.20" height="7.66" fill="#f2fad7" stroke="#9a9aa4" stroke-width="0.55"/>
<rect x="237.70" y="287.34" width="13.20" height="7.66" fill="#f2fad7" stroke="#9a9aa4" stroke-width="0.55"/>
<rect x="250.90" y="287.34" width="13.20" height="7.66" fill="#f2fad7" stroke="#9a9aa4" stroke-width="0.55"/>
<rect x="264.10" y="287.34" width="13.20" height="7.66" fill="#f2fad7" stroke="#9a9aa4" stroke-width="0.55"/>
<rect x="277.30" y="287.34" width="13.20" height="7.66" fill="#f2fad7" stroke="#9a9aa4" stroke-width="0.55"/>
<rect x="290.50" y="287.34" width="13.20" height="7.66" fill="#feea9f" stroke="#9a9aa4" stroke-width="0.55"/>
<rect x="303.70" y="287.34" width="13.20" height="7.66" fill="#fff7b3" stroke="#9a9aa4" stroke-width="0.55"/>
<rect x="316.90" y="287.34" width="13.20" height="7.66" fill="#feea9f" stroke="#9a9aa4" stroke-width="0.55"/>
<rect x="330.10" y="287.34" width="13.20" height="7.66" fill="#f2fad7" stroke="#9a9aa4" stroke-width="0.55"/>
<rect x="343.30" y="287.34" width="13.20" height="7.66" fill="#feea9f" stroke="#9a9aa4" stroke-width="0.55"/>
<rect x="356.50" y="287.34" width="13.20" height="7.66" fill="#fff7b3" stroke="#9a9aa4" stroke-width="0.55"/>
<rect x="369.70" y="287.34" width="13.20" height="7.66" fill="#fff7b3" stroke="#9a9aa4" stroke-width="0.55"/>
<rect x="382.90" y="287.34" width="13.20" height="7.66" fill="#f2fad7" stroke="#9a9aa4" stroke-width="0.55"/>
<rect x="396.10" y="287.34" width="13.20" height="7.66" fill="#e6563c" stroke="#9a9aa4" stroke-width="0.55"/>
<rect x="66.10" y="294.99" width="13.20" height="7.66" fill="#f9fdca" stroke="#9a9aa4" stroke-width="0.55"/>
<rect x="79.30" y="294.99" width="13.20" height="7.66" fill="#f2fad7" stroke="#9a9aa4" stroke-width="0.55"/>
<rect x="92.50" y="294.99" width="13.20" height="7.66" fill="#f2fad7" stroke="#9a9aa4" stroke-width="0.55"/>
<rect x="105.70" y="294.99" width="13.20" height="7.66" fill="#fff7b3" stroke="#9a9aa4" stroke-width="0.55"/>
<rect x="118.90" y="294.99" width="13.20" height="7.66" fill="#f2fad7" stroke="#9a9aa4" stroke-width="0.55"/>
<rect x="132.10" y="294.99" width="13.20" height="7.66" fill="#f2fad7" stroke="#9a9aa4" stroke-width="0.55"/>
<rect x="145.30" y="294.99" width="13.20" height="7.66" fill="#f9fdca" stroke="#9a9aa4" stroke-width="0.55"/>
<rect x="158.50" y="294.99" width="13.20" height="7.66" fill="#fff7b3" stroke="#9a9aa4" stroke-width="0.55"/>
<rect x="171.70" y="294.99" width="13.20" height="7.66" fill="#fff7b3" stroke="#9a9aa4" stroke-width="0.55"/>
<rect x="184.90" y="294.99" width="13.20" height="7.66" fill="#fed98b" stroke="#9a9aa4" stroke-width="0.55"/>
<rect x="198.10" y="294.99" width="13.20" height="7.66" fill="#e6563c" stroke="#9a9aa4" stroke-width="0.55"/>
<rect x="211.30" y="294.99" width="13.20" height="7.66" fill="#f2fad7" stroke="#9a9aa4" stroke-width="0.55"/>
<rect x="224.50" y="294.99" width="13.20" height="7.66" fill="#f2fad7" stroke="#9a9aa4" stroke-width="0.55"/>
<rect x="237.70" y="294.99" width="13.20" height="7.66" fill="#f2fad7" stroke="#9a9aa4" stroke-width="0.55"/>
<rect x="250.90" y="294.99" width="13.20" height="7.66" fill="#f2fad7" stroke="#9a9aa4" stroke-width="0.55"/>
<rect x="264.10" y="294.99" width="13.20" height="7.66" fill="#f2fad7" stroke="#9a9aa4" stroke-width="0.55"/>
<rect x="277.30" y="294.99" width="13.20" height="7.66" fill="#f2fad7" stroke="#9a9aa4" stroke-width="0.55"/>
<rect x="290.50" y="294.99" width="13.20" height="7.66" fill="#fdb674" stroke="#9a9aa4" stroke-width="0.55"/>
<rect x="303.70" y="294.99" width="13.20" height="7.66" fill="#feea9f" stroke="#9a9aa4" stroke-width="0.55"/>
<rect x="316.90" y="294.99" width="13.20" height="7.66" fill="#feea9f" stroke="#9a9aa4" stroke-width="0.55"/>
<rect x="330.10" y="294.99" width="13.20" height="7.66" fill="#f9fdca" stroke="#9a9aa4" stroke-width="0.55"/>
<rect x="343.30" y="294.99" width="13.20" height="7.66" fill="#fff7b3" stroke="#9a9aa4" stroke-width="0.55"/>
<rect x="356.50" y="294.99" width="13.20" height="7.66" fill="#fff7b3" stroke="#9a9aa4" stroke-width="0.55"/>
<rect x="369.70" y="294.99" width="13.20" height="7.66" fill="#fff7b3" stroke="#9a9aa4" stroke-width="0.55"/>
<rect x="382.90" y="294.99" width="13.20" height="7.66" fill="#fff7b3" stroke="#9a9aa4" stroke-width="0.55"/>
<rect x="396.10" y="294.99" width="13.20" height="7.66" fill="#feea9f" stroke="#9a9aa4" stroke-width="0.55"/>
<rect x="66.10" y="302.65" width="13.20" height="7.66" fill="#f9fdca" stroke="#9a9aa4" stroke-width="0.55"/>
<rect x="79.30" y="302.65" width="13.20" height="7.66" fill="#eaf7e5" stroke="#9a9aa4" stroke-width="0.55"/>
<rect x="92.50" y="302.65" width="13.20" height="7.66" fill="#f2fad7" stroke="#9a9aa4" stroke-width="0.55"/>
<rect x="105.70" y="302.65" width="13.20" height="7.66" fill="#eaf7e5" stroke="#9a9aa4" stroke-width="0.55"/>
<rect x="118.90" y="302.65" width="13.20" height="7.66" fill="#f2fad7" stroke="#9a9aa4" stroke-width="0.55"/>
<rect x="132.10" y="302.65" width="13.20" height="7.66" fill="#f2fad7" stroke="#9a9aa4" stroke-width="0.55"/>
<rect x="145.30" y="302.65" width="13.20" height="7.66" fill="#f2fad7" stroke="#9a9aa4" stroke-width="0.55"/>
<rect x="158.50" y="302.65" width="13.20" height="7.66" fill="#fff7b3" stroke="#9a9aa4" stroke-width="0.55"/>
<rect x="171.70" y="302.65" width="13.20" height="7.66" fill="#fff7b3" stroke="#9a9aa4" stroke-width="0.55"/>
<rect x="184.90" y="302.65" width="13.20" height="7.66" fill="#fed98b" stroke="#9a9aa4" stroke-width="0.55"/>
<rect x="198.10" y="302.65" width="13.20" height="7.66" fill="#fdc67f" stroke="#9a9aa4" stroke-width="0.55"/>
<rect x="211.30" y="302.65" width="13.20" height="7.66" fill="#e2f4f4" stroke="#9a9aa4" stroke-width="0.55"/>
<rect x="224.50" y="302.65" width="13.20" height="7.66" fill="#eaf7e5" stroke="#9a9aa4" stroke-width="0.55"/>
<rect x="237.70" y="302.65" width="13.20" height="7.66" fill="#eaf7e5" stroke="#9a9aa4" stroke-width="0.55"/>
<rect x="250.90" y="302.65" width="13.20" height="7.66" fill="#eaf7e5" stroke="#9a9aa4" stroke-width="0.55"/>
<rect x="264.10" y="302.65" width="13.20" height="7.66" fill="#eaf7e5" stroke="#9a9aa4" stroke-width="0.55"/>
<rect x="277.30" y="302.65" width="13.20" height="7.66" fill="#eaf7e5" stroke="#9a9aa4" stroke-width="0.55"/>
<rect x="290.50" y="302.65" width="13.20" height="7.66" fill="#fda468" stroke="#9a9aa4" stroke-width="0.55"/>
<rect x="303.70" y="302.65" width="13.20" height="7.66" fill="#fdb674" stroke="#9a9aa4" stroke-width="0.55"/>
<rect x="316.90" y="302.65" width="13.20" height="7.66" fill="#feea9f" stroke="#9a9aa4" stroke-width="0.55"/>
<rect x="330.10" y="302.65" width="13.20" height="7.66" fill="#fff7b3" stroke="#9a9aa4" stroke-width="0.55"/>
<rect x="343.30" y="302.65" width="13.20" height="7.66" fill="#feea9f" stroke="#9a9aa4" stroke-width="0.55"/>
<rect x="356.50" y="302.65" width="13.20" height="7.66" fill="#fed98b" stroke="#9a9aa4" stroke-width="0.55"/>
<rect x="369.70" y="302.65" width="13.20" height="7.66" fill="#feea9f" stroke="#9a9aa4" stroke-width="0.55"/>
<rect x="382.90" y="302.65" width="13.20" height="7.66" fill="#feea9f" stroke="#9a9aa4" stroke-width="0.55"/>
<rect x="396.10" y="302.65" width="13.20" height="7.66" fill="#fed98b" stroke="#9a9aa4" stroke-width="0.55"/>
<rect x="66.10" y="310.30" width="13.20" height="7.66" fill="#fff7b3" stroke="#9a9aa4" stroke-width="0.55"/>
<rect x="79.30" y="310.30" width="13.20" height="7.66" fill="#fff7b3" stroke="#9a9aa4" stroke-width="0.55"/>
<rect x="92.50" y="310.30" width="13.20" height="7.66" fill="#fff7b3" stroke="#9a9aa4" stroke-width="0.55"/>
<rect x="105.70" y="310.30" width="13.20" height="7.66" fill="#feea9f" stroke="#9a9aa4" stroke-width="0.55"/>
<rect x="118.90" y="310.30" width="13.20" height="7.66" fill="#fff7b3" stroke="#9a9aa4" stroke-width="0.55"/>
<rect x="132.10" y="310.30" width="13.20" height="7.66" fill="#fff7b3" stroke="#9a9aa4" stroke-width="0.55"/>
<rect x="145.30" y="310.30" width="13.20" height="7.66" fill="#fff7b3" stroke="#9a9aa4" stroke-width="0.55"/>
<rect x="158.50" y="310.30" width="13.20" height="7.66" fill="#fff7b3" stroke="#9a9aa4" stroke-width="0.55"/>
<rect x="171.70" y="310.30" width="13.20" height="7.66" fill="#fff7b3" stroke="#9a9aa4" stroke-width="0.55"/>
<rect x="184.90" y="310.30" width="13.20" height="7.66" fill="#fc915c" stroke="#9a9aa4" stroke-width="0.55"/>
<rect x="198.10" y="310.30" width="13.20" height="7.66" fill="#e6563c" stroke="#9a9aa4" stroke-width="0.55"/>
<rect x="211.30" y="310.30" width="13.20" height="7.66" fill="#f2fad7" stroke="#9a9aa4" stroke-width="0.55"/>
<rect x="224.50" y="310.30" width="13.20" height="7.66" fill="#f9fdca" stroke="#9a9aa4" stroke-width="0.55"/>
<rect x="237.70" y="310.30" width="13.20" height="7.66" fill="#f9fdca" stroke="#9a9aa4" stroke-width="0.55"/>
<rect x="250.90" y="310.30" width="13.20" height="7.66" fill="#fff7b3" stroke="#9a9aa4" stroke-width="0.55"/>
<rect x="264.10" y="310.30" width="13.20" height="7.66" fill="#f2fad7" stroke="#9a9aa4" stroke-width="0.55"/>
<rect x="277.30" y="310.30" width="13.20" height="7.66" fill="#fff7b3" stroke="#9a9aa4" stroke-width="0.55"/>
<rect x="290.50" y="310.30" width="13.20" height="7.66" fill="#f9fdca" stroke="#9a9aa4" stroke-width="0.55"/>
<rect x="303.70" y="310.30" width="13.20" height="7.66" fill="#f9fdca" stroke="#9a9aa4" stroke-width="0.55"/>
<rect x="316.90" y="310.30" width="13.20" height="7.66" fill="#f9fdca" stroke="#9a9aa4" stroke-width="0.55"/>
<rect x="330.10" y="310.30" width="13.20" height="7.66" fill="#f9fdca" stroke="#9a9aa4" stroke-width="0.55"/>
<rect x="343.30" y="310.30" width="13.20" height="7.66" fill="#f2fad7" stroke="#9a9aa4" stroke-width="0.55"/>
<rect x="356.50" y="310.30" width="13.20" height="7.66" fill="#f2fad7" stroke="#9a9aa4" stroke-width="0.55"/>
<rect x="369.70" y="310.30" width="13.20" height="7.66" fill="#f2fad7" stroke="#9a9aa4" stroke-width="0.55"/>
<rect x="382.90" y="310.30" width="13.20" height="7.66" fill="#f2fad7" stroke="#9a9aa4" stroke-width="0.55"/>
<rect x="396.10" y="310.30" width="13.20" height="7.66" fill="#f2fad7" stroke="#9a9aa4" stroke-width="0.55"/>
<rect x="66.10" y="317.96" width="13.20" height="7.66" fill="#f2fad7" stroke="#9a9aa4" stroke-width="0.55"/>
<rect x="79.30" y="317.96" width="13.20" height="7.66" fill="#f9fdca" stroke="#9a9aa4" stroke-width="0.55"/>
<rect x="92.50" y="317.96" width="13.20" height="7.66" fill="#f9fdca" stroke="#9a9aa4" stroke-width="0.55"/>
<rect x="105.70" y="317.96" width="13.20" height="7.66" fill="#f9fdca" stroke="#9a9aa4" stroke-width="0.55"/>
<rect x="118.90" y="317.96" width="13.20" height="7.66" fill="#fff7b3" stroke="#9a9aa4" stroke-width="0.55"/>
<rect x="132.10" y="317.96" width="13.20" height="7.66" fill="#fed98b" stroke="#9a9aa4" stroke-width="0.55"/>
<rect x="145.30" y="317.96" width="13.20" height="7.66" fill="#fed98b" stroke="#9a9aa4" stroke-width="0.55"/>
<rect x="158.50" y="317.96" width="13.20" height="7.66" fill="#feea9f" stroke="#9a9aa4" stroke-width="0.55"/>
<rect x="171.70" y="317.96" width="13.20" height="7.66" fill="#fc915c" stroke="#9a9aa4" stroke-width="0.55"/>
<rect x="184.90" y="317.96" width="13.20" height="7.66" fill="#feea9f" stroke="#9a9aa4" stroke-width="0.55"/>
<rect x="198.10" y="317.96" width="13.20" height="7.66" fill="#fda468" stroke="#9a9aa4" stroke-width="0.55"/>
<rect x="211.30" y="317.96" width="13.20" height="7.66" fill="#f9fdca" stroke="#9a9aa4" stroke-width="0.55"/>
<rect x="224.50" y="317.96" width="13.20" height="7.66" fill="#f9fdca" stroke="#9a9aa4" stroke-width="0.55"/>
<rect x="237.70" y="317.96" width="13.20" height="7.66" fill="#f2fad7" stroke="#9a9aa4" stroke-width="0.55"/>
<rect x="250.90" y="317.96" width="13.20" height="7.66" fill="#f2fad7" stroke="#9a9aa4" stroke-width="0.55"/>
<rect x="264.10" y="317.96" width="13.20" height="7.66" fill="#f2fad7" stroke="#9a9aa4" stroke-width="0.55"/>
<rect x="277.30" y="317.96" width="13.20" height="7.66" fill="#f2fad7" stroke="#9a9aa4" stroke-width="0.55"/>
<rect x="290.50" y="317.96" width="13.20" height="7.66" fill="#f6fbd0" stroke="#9a9aa4" stroke-width="0.55"/>
<rect x="303.70" y="317.96" width="13.20" height="7.66" fill="#f6fbd0" stroke="#9a9aa4" stroke-width="0.55"/>
<rect x="316.90" y="317.96" width="13.20" height="7.66" fill="#f6fbd0" stroke="#9a9aa4" stroke-width="0.55"/>
<rect x="330.10" y="317.96" width="13.20" height="7.66" fill="#fff7b3" stroke="#9a9aa4" stroke-width="0.55"/>
<rect x="343.30" y="317.96" width="13.20" height="7.66" fill="#f6fbd0" stroke="#9a9aa4" stroke-width="0.55"/>
<rect x="356.50" y="317.96" width="13.20" height="7.66" fill="#f6fbd0" stroke="#9a9aa4" stroke-width="0.55"/>
<rect x="369.70" y="317.96" width="13.20" height="7.66" fill="#f6fbd0" stroke="#9a9aa4" stroke-width="0.55"/>
<rect x="382.90" y="317.96" width="13.20" height="7.66" fill="#f6fbd0" stroke="#9a9aa4" stroke-width="0.55"/>
<rect x="396.10" y="317.96" width="13.20" height="7.66" fill="#f6fbd0" stroke="#9a9aa4" stroke-width="0.55"/>
<rect x="66.10" y="325.61" width="13.20" height="7.66" fill="#f9fdca" stroke="#9a9aa4" stroke-width="0.55"/>
<rect x="79.30" y="325.61" width="13.20" height="7.66" fill="#f9fdca" stroke="#9a9aa4" stroke-width="0.55"/>
<rect x="92.50" y="325.61" width="13.20" height="7.66" fill="#f9fdca" stroke="#9a9aa4" stroke-width="0.55"/>
<rect x="105.70" y="325.61" width="13.20" height="7.66" fill="#f9fdca" stroke="#9a9aa4" stroke-width="0.55"/>
<rect x="118.90" y="325.61" width="13.20" height="7.66" fill="#feea9f" stroke="#9a9aa4" stroke-width="0.55"/>
<rect x="132.10" y="325.61" width="13.20" height="7.66" fill="#fff7b3" stroke="#9a9aa4" stroke-width="0.55"/>
<rect x="145.30" y="325.61" width="13.20" height="7.66" fill="#fff7b3" stroke="#9a9aa4" stroke-width="0.55"/>
<rect x="158.50" y="325.61" width="13.20" height="7.66" fill="#dd3e2f" stroke="#9a9aa4" stroke-width="0.55"/>
<rect x="171.70" y="325.61" width="13.20" height="7.66" fill="#feea9f" stroke="#9a9aa4" stroke-width="0.55"/>
<rect x="184.90" y="325.61" width="13.20" height="7.66" fill="#fed98b" stroke="#9a9aa4" stroke-width="0.55"/>
<rect x="198.10" y="325.61" width="13.20" height="7.66" fill="#fdc67f" stroke="#9a9aa4" stroke-width="0.55"/>
<rect x="211.30" y="325.61" width="13.20" height="7.66" fill="#f9fdca" stroke="#9a9aa4" stroke-width="0.55"/>
<rect x="224.50" y="325.61" width="13.20" height="7.66" fill="#f9fdca" stroke="#9a9aa4" stroke-width="0.55"/>
<rect x="237.70" y="325.61" width="13.20" height="7.66" fill="#f9fdca" stroke="#9a9aa4" stroke-width="0.55"/>
<rect x="250.90" y="325.61" width="13.20" height="7.66" fill="#f9fdca" stroke="#9a9aa4" stroke-width="0.55"/>
<rect x="264.10" y="325.61" width="13.20" height="7.66" fill="#f9fdca" stroke="#9a9aa4" stroke-width="0.55"/>
<rect x="277.30" y="325.61" width="13.20" height="7.66" fill="#f9fdca" stroke="#9a9aa4" stroke-width="0.55"/>
<rect x="290.50" y="325.61" width="13.20" height="7.66" fill="#f6fbd0" stroke="#9a9aa4" stroke-width="0.55"/>
<rect x="303.70" y="325.61" width="13.20" height="7.66" fill="#f6fbd0" stroke="#9a9aa4" stroke-width="0.55"/>
<rect x="316.90" y="325.61" width="13.20" height="7.66" fill="#f6fbd0" stroke="#9a9aa4" stroke-width="0.55"/>
<rect x="330.10" y="325.61" width="13.20" height="7.66" fill="#fff7b3" stroke="#9a9aa4" stroke-width="0.55"/>
<rect x="343.30" y="325.61" width="13.20" height="7.66" fill="#fff7b3" stroke="#9a9aa4" stroke-width="0.55"/>
<rect x="356.50" y="325.61" width="13.20" height="7.66" fill="#f6fbd0" stroke="#9a9aa4" stroke-width="0.55"/>
<rect x="369.70" y="325.61" width="13.20" height="7.66" fill="#f6fbd0" stroke="#9a9aa4" stroke-width="0.55"/>
<rect x="382.90" y="325.61" width="13.20" height="7.66" fill="#f6fbd0" stroke="#9a9aa4" stroke-width="0.55"/>
<rect x="396.10" y="325.61" width="13.20" height="7.66" fill="#f6fbd0" stroke="#9a9aa4" stroke-width="0.55"/>
<rect x="66.10" y="333.27" width="13.20" height="7.66" fill="#f9fdca" stroke="#9a9aa4" stroke-width="0.55"/>
<rect x="79.30" y="333.27" width="13.20" height="7.66" fill="#f9fdca" stroke="#9a9aa4" stroke-width="0.55"/>
<rect x="92.50" y="333.27" width="13.20" height="7.66" fill="#f9fdca" stroke="#9a9aa4" stroke-width="0.55"/>
<rect x="105.70" y="333.27" width="13.20" height="7.66" fill="#f9fdca" stroke="#9a9aa4" stroke-width="0.55"/>
<rect x="118.90" y="333.27" width="13.20" height="7.66" fill="#fff7b3" stroke="#9a9aa4" stroke-width="0.55"/>
<rect x="132.10" y="333.27" width="13.20" height="7.66" fill="#f9fdca" stroke="#9a9aa4" stroke-width="0.55"/>
<rect x="145.30" y="333.27" width="13.20" height="7.66" fill="#f9fdca" stroke="#9a9aa4" stroke-width="0.55"/>
<rect x="158.50" y="333.27" width="13.20" height="7.66" fill="#fda468" stroke="#9a9aa4" stroke-width="0.55"/>
<rect x="171.70" y="333.27" width="13.20" height="7.66" fill="#fed98b" stroke="#9a9aa4" stroke-width="0.55"/>
<rect x="184.90" y="333.27" width="13.20" height="7.66" fill="#f4794e" stroke="#9a9aa4" stroke-width="0.55"/>
<rect x="198.10" y="333.27" width="13.20" height="7.66" fill="#fdc67f" stroke="#9a9aa4" stroke-width="0.55"/>
<rect x="211.30" y="333.27" width="13.20" height="7.66" fill="#f6fbd0" stroke="#9a9aa4" stroke-width="0.55"/>
<rect x="224.50" y="333.27" width="13.20" height="7.66" fill="#f6fbd0" stroke="#9a9aa4" stroke-width="0.55"/>
<rect x="237.70" y="333.27" width="13.20" height="7.66" fill="#f6fbd0" stroke="#9a9aa4" stroke-width="0.55"/>
<rect x="250.90" y="333.27" width="13.20" height="7.66" fill="#f6fbd0" stroke="#9a9aa4" stroke-width="0.55"/>
<rect x="264.10" y="333.27" width="13.20" height="7.66" fill="#f6fbd0" stroke="#9a9aa4" stroke-width="0.55"/>
<rect x="277.30" y="333.27" width="13.20" height="7.66" fill="#fff7b3" stroke="#9a9aa4" stroke-width="0.55"/>
<rect x="290.50" y="333.27" width="13.20" height="7.66" fill="#f6fbd0" stroke="#9a9aa4" stroke-width="0.55"/>
<rect x="303.70" y="333.27" width="13.20" height="7.66" fill="#f6fbd0" stroke="#9a9aa4" stroke-width="0.55"/>
<rect x="316.90" y="333.27" width="13.20" height="7.66" fill="#fff7b3" stroke="#9a9aa4" stroke-width="0.55"/>
<rect x="330.10" y="333.27" width="13.20" height="7.66" fill="#f6fbd0" stroke="#9a9aa4" stroke-width="0.55"/>
<rect x="343.30" y="333.27" width="13.20" height="7.66" fill="#f6fbd0" stroke="#9a9aa4" stroke-width="0.55"/>
<rect x="356.50" y="333.27" width="13.20" height="7.66" fill="#f6fbd0" stroke="#9a9aa4" stroke-width="0.55"/>
<rect x="369.70" y="333.27" width="13.20" height="7.66" fill="#f6fbd0" stroke="#9a9aa4" stroke-width="0.55"/>
<rect x="382.90" y="333.27" width="13.20" height="7.66" fill="#f6fbd0" stroke="#9a9aa4" stroke-width="0.55"/>
<rect x="396.10" y="333.27" width="13.20" height="7.66" fill="#f6fbd0" stroke="#9a9aa4" stroke-width="0.55"/>
<rect x="66.10" y="340.92" width="13.20" height="7.66" fill="#f9fdca" stroke="#9a9aa4" stroke-width="0.55"/>
<rect x="79.30" y="340.92" width="13.20" height="7.66" fill="#f9fdca" stroke="#9a9aa4" stroke-width="0.55"/>
<rect x="92.50" y="340.92" width="13.20" height="7.66" fill="#f9fdca" stroke="#9a9aa4" stroke-width="0.55"/>
<rect x="105.70" y="340.92" width="13.20" height="7.66" fill="#f9fdca" stroke="#9a9aa4" stroke-width="0.55"/>
<rect x="118.90" y="340.92" width="13.20" height="7.66" fill="#fff7b3" stroke="#9a9aa4" stroke-width="0.55"/>
<rect x="132.10" y="340.92" width="13.20" height="7.66" fill="#f9fdca" stroke="#9a9aa4" stroke-width="0.55"/>
<rect x="145.30" y="340.92" width="13.20" height="7.66" fill="#f9fdca" stroke="#9a9aa4" stroke-width="0.55"/>
<rect x="158.50" y="340.92" width="13.20" height="7.66" fill="#e6563c" stroke="#9a9aa4" stroke-width="0.55"/>
<rect x="171.70" y="340.92" width="13.20" height="7.66" fill="#fdc67f" stroke="#9a9aa4" stroke-width="0.55"/>
<rect x="184.90" y="340.92" width="13.20" height="7.66" fill="#fed98b" stroke="#9a9aa4" stroke-width="0.55"/>
<rect x="198.10" y="340.92" width="13.20" height="7.66" fill="#fdb674" stroke="#9a9aa4" stroke-width="0.55"/>
<rect x="211.30" y="340.92" width="13.20" height="7.66" fill="#f6fbd0" stroke="#9a9aa4" stroke-width="0.55"/>
<rect x="224.50" y="340.92" width="13.20" height="7.66" fill="#f6fbd0" stroke="#9a9aa4" stroke-width="0.55"/>
<rect x="237.70" y="340.92" width="13.20" height="7.66" fill="#f6fbd0" stroke="#9a9aa4" stroke-width="0.55"/>
<rect x="250.90" y="340.92" width="13.20" height="7.66" fill="#f6fbd0" stroke="#9a9aa4" stroke-width="0.55"/>
<rect x="264.10" y="340.92" width="13.20" height="7.66" fill="#f6fbd0" stroke="#9a9aa4" stroke-width="0.55"/>
<rect x="277.30" y="340.92" width="13.20" height="7.66" fill="#f6fbd0" stroke="#9a9aa4" stroke-width="0.55"/>
<rect x="290.50" y="340.92" width="13.20" height="7.66" fill="#f6fbd0" stroke="#9a9aa4" stroke-width="0.55"/>
<rect x="303.70" y="340.92" width="13.20" height="7.66" fill="#f6fbd0" stroke="#9a9aa4" stroke-width="0.55"/>
<rect x="316.90" y="340.92" width="13.20" height="7.66" fill="#f6fbd0" stroke="#9a9aa4" stroke-width="0.55"/>
<rect x="330.10" y="340.92" width="13.20" height="7.66" fill="#f6fbd0" stroke="#9a9aa4" stroke-width="0.55"/>
<rect x="343.30" y="340.92" width="13.20" height="7.66" fill="#f6fbd0" stroke="#9a9aa4" stroke-width="0.55"/>
<rect x="356.50" y="340.92" width="13.20" height="7.66" fill="#f6fbd0" stroke="#9a9aa4" stroke-width="0.55"/>
<rect x="369.70" y="340.92" width="13.20" height="7.66" fill="#fff7b3" stroke="#9a9aa4" stroke-width="0.55"/>
<rect x="382.90" y="340.92" width="13.20" height="7.66" fill="#f6fbd0" stroke="#9a9aa4" stroke-width="0.55"/>
<rect x="396.10" y="340.92" width="13.20" height="7.66" fill="#f6fbd0" stroke="#9a9aa4" stroke-width="0.55"/>
<rect x="66.10" y="348.58" width="13.20" height="7.66" fill="#f9fdca" stroke="#9a9aa4" stroke-width="0.55"/>
<rect x="79.30" y="348.58" width="13.20" height="7.66" fill="#f9fdca" stroke="#9a9aa4" stroke-width="0.55"/>
<rect x="92.50" y="348.58" width="13.20" height="7.66" fill="#f9fdca" stroke="#9a9aa4" stroke-width="0.55"/>
<rect x="105.70" y="348.58" width="13.20" height="7.66" fill="#f9fdca" stroke="#9a9aa4" stroke-width="0.55"/>
<rect x="118.90" y="348.58" width="13.20" height="7.66" fill="#feea9f" stroke="#9a9aa4" stroke-width="0.55"/>
<rect x="132.10" y="348.58" width="13.20" height="7.66" fill="#f9fdca" stroke="#9a9aa4" stroke-width="0.55"/>
<rect x="145.30" y="348.58" width="13.20" height="7.66" fill="#f9fdca" stroke="#9a9aa4" stroke-width="0.55"/>
<rect x="158.50" y="348.58" width="13.20" height="7.66" fill="#f4794e" stroke="#9a9aa4" stroke-width="0.55"/>
<rect x="171.70" y="348.58" width="13.20" height="7.66" fill="#fdb674" stroke="#9a9aa4" stroke-width="0.55"/>
<rect x="184.90" y="348.58" width="13.20" height="7.66" fill="#fed98b" stroke="#9a9aa4" stroke-width="0.55"/>
<rect x="198.10" y="348.58" width="13.20" height="7.66" fill="#fda468" stroke="#9a9aa4" stroke-width="0.55"/>
<rect x="211.30" y="348.58" width="13.20" height="7.66" fill="#f6fbd0" stroke="#9a9aa4" stroke-width="0.55"/>
<rect x="224.50" y="348.58" width="13.20" height="7.66" fill="#f6fbd0" stroke="#9a9aa4" stroke-width="0.55"/>
<rect x="237.70" y="348.58" width="13.20" height="7.66" fill="#f6fbd0" stroke="#9a9aa4" stroke-width="0.55"/>
<rect x="250.90" y="348.58" width="13.20" height="7.66" fill="#f6fbd0" stroke="#9a9aa4" stroke-width="0.55"/>
<rect x="264.10" y="348.58" width="13.20" height="7.66" fill="#f6fbd0" stroke="#9a9aa4" stroke-width="0.55"/>
<rect x="277.30" y="348.58" width="13.20" height="7.66" fill="#f6fbd0" stroke="#9a9aa4" stroke-width="0.55"/>
<rect x="290.50" y="348.58" width="13.20" height="7.66" fill="#f6fbd0" stroke="#9a9aa4" stroke-width="0.55"/>
<rect x="303.70" y="348.58" width="13.20" height="7.66" fill="#f6fbd0" stroke="#9a9aa4" stroke-width="0.55"/>
<rect x="316.90" y="348.58" width="13.20" height="7.66" fill="#f6fbd0" stroke="#9a9aa4" stroke-width="0.55"/>
<rect x="330.10" y="348.58" width="13.20" height="7.66" fill="#f6fbd0" stroke="#9a9aa4" stroke-width="0.55"/>
<rect x="343.30" y="348.58" width="13.20" height="7.66" fill="#f6fbd0" stroke="#9a9aa4" stroke-width="0.55"/>
<rect x="356.50" y="348.58" width="13.20" height="7.66" fill="#f6fbd0" stroke="#9a9aa4" stroke-width="0.55"/>
<rect x="369.70" y="348.58" width="13.20" height="7.66" fill="#f6fbd0" stroke="#9a9aa4" stroke-width="0.55"/>
<rect x="382.90" y="348.58" width="13.20" height="7.66" fill="#f6fbd0" stroke="#9a9aa4" stroke-width="0.55"/>
<rect x="396.10" y="348.58" width="13.20" height="7.66" fill="#f6fbd0" stroke="#9a9aa4" stroke-width="0.55"/>
<rect x="66.10" y="356.23" width="13.20" height="7.66" fill="#f9fdca" stroke="#9a9aa4" stroke-width="0.55"/>
<rect x="79.30" y="356.23" width="13.20" height="7.66" fill="#f9fdca" stroke="#9a9aa4" stroke-width="0.55"/>
<rect x="92.50" y="356.23" width="13.20" height="7.66" fill="#f9fdca" stroke="#9a9aa4" stroke-width="0.55"/>
<rect x="105.70" y="356.23" width="13.20" height="7.66" fill="#f9fdca" stroke="#9a9aa4" stroke-width="0.55"/>
<rect x="118.90" y="356.23" width="13.20" height="7.66" fill="#fff7b3" stroke="#9a9aa4" stroke-width="0.55"/>
<rect x="132.10" y="356.23" width="13.20" height="7.66" fill="#f9fdca" stroke="#9a9aa4" stroke-width="0.55"/>
<rect x="145.30" y="356.23" width="13.20" height="7.66" fill="#f9fdca" stroke="#9a9aa4" stroke-width="0.55"/>
<rect x="158.50" y="356.23" width="13.20" height="7.66" fill="#fc915c" stroke="#9a9aa4" stroke-width="0.55"/>
<rect x="171.70" y="356.23" width="13.20" height="7.66" fill="#fda468" stroke="#9a9aa4" stroke-width="0.55"/>
<rect x="184.90" y="356.23" width="13.20" height="7.66" fill="#fed98b" stroke="#9a9aa4" stroke-width="0.55"/>
<rect x="198.10" y="356.23" width="13.20" height="7.66" fill="#fda468" stroke="#9a9aa4" stroke-width="0.55"/>
<rect x="211.30" y="356.23" width="13.20" height="7.66" fill="#f6fbd0" stroke="#9a9aa4" stroke-width="0.55"/>
<rect x="224.50" y="356.23" width="13.20" height="7.66" fill="#f6fbd0" stroke="#9a9aa4" stroke-width="0.55"/>
<rect x="237.70" y="356.23" width="13.20" height="7.66" fill="#f6fbd0" stroke="#9a9aa4" stroke-width="0.55"/>
<rect x="250.90" y="356.23" width="13.20" height="7.66" fill="#f6fbd0" stroke="#9a9aa4" stroke-width="0.55"/>
<rect x="264.10" y="356.23" width="13.20" height="7.66" fill="#f6fbd0" stroke="#9a9aa4" stroke-width="0.55"/>
<rect x="277.30" y="356.23" width="13.20" height="7.66" fill="#f6fbd0" stroke="#9a9aa4" stroke-width="0.55"/>
<rect x="290.50" y="356.23" width="13.20" height="7.66" fill="#f6fbd0" stroke="#9a9aa4" stroke-width="0.55"/>
<rect x="303.70" y="356.23" width="13.20" height="7.66" fill="#f6fbd0" stroke="#9a9aa4" stroke-width="0.55"/>
<rect x="316.90" y="356.23" width="13.20" height="7.66" fill="#f6fbd0" stroke="#9a9aa4" stroke-width="0.55"/>
<rect x="330.10" y="356.23" width="13.20" height="7.66" fill="#f6fbd0" stroke="#9a9aa4" stroke-width="0.55"/>
<rect x="343.30" y="356.23" width="13.20" height="7.66" fill="#f6fbd0" stroke="#9a9aa4" stroke-width="0.55"/>
<rect x="356.50" y="356.23" width="13.20" height="7.66" fill="#f6fbd0" stroke="#9a9aa4" stroke-width="0.55"/>
<rect x="369.70" y="356.23" width="13.20" height="7.66" fill="#f6fbd0" stroke="#9a9aa4" stroke-width="0.55"/>
<rect x="382.90" y="356.23" width="13.20" height="7.66" fill="#f6fbd0" stroke="#9a9aa4" stroke-width="0.55"/>
<rect x="396.10" y="356.23" width="13.20" height="7.66" fill="#f6fbd0" stroke="#9a9aa4" stroke-width="0.55"/>
<rect x="66.10" y="363.89" width="13.20" height="7.66" fill="#f9fdca" stroke="#9a9aa4" stroke-width="0.55"/>
<rect x="79.30" y="363.89" width="13.20" height="7.66" fill="#f9fdca" stroke="#9a9aa4" stroke-width="0.55"/>
<rect x="92.50" y="363.89" width="13.20" height="7.66" fill="#f9fdca" stroke="#9a9aa4" stroke-width="0.55"/>
<rect x="105.70" y="363.89" width="13.20" height="7.66" fill="#f9fdca" stroke="#9a9aa4" stroke-width="0.55"/>
<rect x="118.90" y="363.89" width="13.20" height="7.66" fill="#fff7b3" stroke="#9a9aa4" stroke-width="0.55"/>
<rect x="132.10" y="363.89" width="13.20" height="7.66" fill="#f9fdca" stroke="#9a9aa4" stroke-width="0.55"/>
<rect x="145.30" y="363.89" width="13.20" height="7.66" fill="#f9fdca" stroke="#9a9aa4" stroke-width="0.55"/>
<rect x="158.50" y="363.89" width="13.20" height="7.66" fill="#fc915c" stroke="#9a9aa4" stroke-width="0.55"/>
<rect x="171.70" y="363.89" width="13.20" height="7.66" fill="#fda468" stroke="#9a9aa4" stroke-width="0.55"/>
<rect x="184.90" y="363.89" width="13.20" height="7.66" fill="#fdc67f" stroke="#9a9aa4" stroke-width="0.55"/>
<rect x="198.10" y="363.89" width="13.20" height="7.66" fill="#fda468" stroke="#9a9aa4" stroke-width="0.55"/>
<rect x="211.30" y="363.89" width="13.20" height="7.66" fill="#f6fbd0" stroke="#9a9aa4" stroke-width="0.55"/>
<rect x="224.50" y="363.89" width="13.20" height="7.66" fill="#f6fbd0" stroke="#9a9aa4" stroke-width="0.55"/>
<rect x="237.70" y="363.89" width="13.20" height="7.66" fill="#f6fbd0" stroke="#9a9aa4" stroke-width="0.55"/>
<rect x="250.90" y="363.89" width="13.20" height="7.66" fill="#f6fbd0" stroke="#9a9aa4" stroke-width="0.55"/>
<rect x="264.10" y="363.89" width="13.20" height="7.66" fill="#f6fbd0" stroke="#9a9aa4" stroke-width="0.55"/>
<rect x="277.30" y="363.89" width="13.20" height="7.66" fill="#f6fbd0" stroke="#9a9aa4" stroke-width="0.55"/>
<rect x="290.50" y="363.89" width="13.20" height="7.66" fill="#f6fbd0" stroke="#9a9aa4" stroke-width="0.55"/>
<rect x="303.70" y="363.89" width="13.20" height="7.66" fill="#f6fbd0" stroke="#9a9aa4" stroke-width="0.55"/>
<rect x="316.90" y="363.89" width="13.20" height="7.66" fill="#f6fbd0" stroke="#9a9aa4" stroke-width="0.55"/>
<rect x="330.10" y="363.89" width="13.20" height="7.66" fill="#f6fbd0" stroke="#9a9aa4" stroke-width="0.55"/>
<rect x="343.30" y="363.89" width="13.20" height="7.66" fill="#f6fbd0" stroke="#9a9aa4" stroke-width="0.55"/>
<rect x="356.50" y="363.89" width="13.20" height="7.66" fill="#f6fbd0" stroke="#9a9aa4" stroke-width="0.55"/>
<rect x="369.70" y="363.89" width="13.20" height="7.66" fill="#f6fbd0" stroke="#9a9aa4" stroke-width="0.55"/>
<rect x="382.90" y="363.89" width="13.20" height="7.66" fill="#f6fbd0" stroke="#9a9aa4" stroke-width="0.55"/>
<rect x="396.10" y="363.89" width="13.20" height="7.66" fill="#f6fbd0" stroke="#9a9aa4" stroke-width="0.55"/>
<rect x="66.10" y="371.54" width="13.20" height="7.66" fill="#f9fdca" stroke="#9a9aa4" stroke-width="0.55"/>
<rect x="79.30" y="371.54" width="13.20" height="7.66" fill="#f9fdca" stroke="#9a9aa4" stroke-width="0.55"/>
<rect x="92.50" y="371.54" width="13.20" height="7.66" fill="#f9fdca" stroke="#9a9aa4" stroke-width="0.55"/>
<rect x="105.70" y="371.54" width="13.20" height="7.66" fill="#f9fdca" stroke="#9a9aa4" stroke-width="0.55"/>
<rect x="118.90" y="371.54" width="13.20" height="7.66" fill="#fff7b3" stroke="#9a9aa4" stroke-width="0.55"/>
<rect x="132.10" y="371.54" width="13.20" height="7.66" fill="#f9fdca" stroke="#9a9aa4" stroke-width="0.55"/>
<rect x="145.30" y="371.54" width="13.20" height="7.66" fill="#f9fdca" stroke="#9a9aa4" stroke-width="0.55"/>
<rect x="158.50" y="371.54" width="13.20" height="7.66" fill="#fc915c" stroke="#9a9aa4" stroke-width="0.55"/>
<rect x="171.70" y="371.54" width="13.20" height="7.66" fill="#fda468" stroke="#9a9aa4" stroke-width="0.55"/>
<rect x="184.90" y="371.54" width="13.20" height="7.66" fill="#fdc67f" stroke="#9a9aa4" stroke-width="0.55"/>
<rect x="198.10" y="371.54" width="13.20" height="7.66" fill="#fdb674" stroke="#9a9aa4" stroke-width="0.55"/>
<rect x="211.30" y="371.54" width="13.20" height="7.66" fill="#f6fbd0" stroke="#9a9aa4" stroke-width="0.55"/>
<rect x="224.50" y="371.54" width="13.20" height="7.66" fill="#f6fbd0" stroke="#9a9aa4" stroke-width="0.55"/>
<rect x="237.70" y="371.54" width="13.20" height="7.66" fill="#f6fbd0" stroke="#9a9aa4" stroke-width="0.55"/>
<rect x="250.90" y="371.54" width="13.20" height="7.66" fill="#f6fbd0" stroke="#9a9aa4" stroke-width="0.55"/>
<rect x="264.10" y="371.54" width="13.20" height="7.66" fill="#f6fbd0" stroke="#9a9aa4" stroke-width="0.55"/>
<rect x="277.30" y="371.54" width="13.20" height="7.66" fill="#f6fbd0" stroke="#9a9aa4" stroke-width="0.55"/>
<rect x="290.50" y="371.54" width="13.20" height="7.66" fill="#f6fbd0" stroke="#9a9aa4" stroke-width="0.55"/>
<rect x="303.70" y="371.54" width="13.20" height="7.66" fill="#f6fbd0" stroke="#9a9aa4" stroke-width="0.55"/>
<rect x="316.90" y="371.54" width="13.20" height="7.66" fill="#f6fbd0" stroke="#9a9aa4" stroke-width="0.55"/>
<rect x="330.10" y="371.54" width="13.20" height="7.66" fill="#f6fbd0" stroke="#9a9aa4" stroke-width="0.55"/>
<rect x="343.30" y="371.54" width="13.20" height="7.66" fill="#f6fbd0" stroke="#9a9aa4" stroke-width="0.55"/>
<rect x="356.50" y="371.54" width="13.20" height="7.66" fill="#f6fbd0" stroke="#9a9aa4" stroke-width="0.55"/>
<rect x="369.70" y="371.54" width="13.20" height="7.66" fill="#f6fbd0" stroke="#9a9aa4" stroke-width="0.55"/>
<rect x="382.90" y="371.54" width="13.20" height="7.66" fill="#f6fbd0" stroke="#9a9aa4" stroke-width="0.55"/>
<rect x="396.10" y="371.54" width="13.20" height="7.66" fill="#f6fbd0" stroke="#9a9aa4" stroke-width="0.55"/>
<g transform="rotate(0.03 411 200)">
<text x="411" y="17.5" font-size="9.0">Compounds</text>
<text x="411" y="25.73" font-size="7.85">Ethyl hexanoate</text>
<text x="411" y="33.38" font-size="7.85">Ethyl octanoate</text>
<text x="411" y="41.04" font-size="7.85">Jasmone</text>
<text x="411" y="48.69" font-size="7.85">Indole</text>
<text x="411" y="56.35" font-size="7.85">(E)-3-Hexen-1-ol</text>
<text x="411" y="64.00" font-size="7.85">Phenethyl alcohol</text>
<text x="411" y="71.66" font-size="7.85">Ethyl nonanoate</text>
<text x="411" y="79.31" font-size="7.85">(E)-Linalool Oxide (Furanoid)</text>
<text x="411" y="86.97" font-size="7.85">Citral</text>
<text x="411" y="94.63" font-size="7.85">(Z)-Citral</text>
<text x="411" y="102.28" font-size="7.85">Geraniol</text>
<text x="411" y="109.94" font-size="7.85">Safranal</text>
<text x="411" y="117.59" font-size="7.85">O-Tolunitrile</text>
<text x="411" y="125.25" font-size="7.85">δ-Cadinene</text>
<text x="411" y="132.90" font-size="7.85">α-Muurolene</text>
<text x="411" y="140.56" font-size="7.85">Dextro-Limonene</text>
<text x="411" y="148.21" font-size="7.85">α-terpineol</text>
<text x="411" y="155.87" font-size="7.85">Cedrol</text>
<text x="411" y="163.52" font-size="7.85">1-Methyl naphthalene</text>
<text x="411" y="171.18" font-size="7.85">2-Methyl naphthalene</text>
<text x="411" y="178.83" font-size="7.85">Mesityl oxide</text>
<text x="411" y="186.49" font-size="7.85">α-ionone</text>
<text x="411" y="194.14" font-size="7.85">Dehydro-β-ionone</text>
<text x="411" y="201.80" font-size="7.85">Dihydro-β-ionone</text>
<text x="411" y="209.46" font-size="7.85">Naphthalene</text>
<text x="411" y="217.11" font-size="7.85">Styrene</text>
<text x="411" y="224.77" font-size="7.85">Decanal</text>
<text x="411" y="232.42" font-size="7.85">Geranyl Acetone</text>
<text x="411" y="240.08" font-size="7.85">6-Methyl-5-hepten-2-one</text>
<text x="411" y="247.73" font-size="7.85">(E,E)-2,4-Heptadienal</text>
<text x="411" y="255.39" font-size="7.85">L-Menthone</text>
<text x="411" y="263.04" font-size="7.85">β-Cyclocitral</text>
<text x="411" y="270.70" font-size="7.85">Acetophenone</text>
<text x="411" y="278.35" font-size="7.85">(E)-2-Octen-1-ol</text>
<text x="411" y="286.01" font-size="7.85">Heptanal</text>
<text x="411" y="293.66" font-size="7.85">Methyl benzoate</text>
<text x="411" y="301.32" font-size="7.85">Para-Xylene</text>
<text x="411" y="308.97" font-size="7.85">Toluene</text>
<text x="411" y="316.63" font-size="7.85">Benzyl alcohol</text>
<text x="411" y="324.29" font-size="7.85">Methyl salicylate</text>
<text x="411" y="331.94" font-size="7.85">α-Ionene</text>
<text x="411" y="339.60" font-size="7.85">Methyl anthranilate</text>
<text x="411" y="347.25" font-size="7.85">2-Methyl-5-ethylpyrazine</text>
<text x="411" y="354.91" font-size="7.85">1,2-Dihydro-1,1,6-trimethylnaphthalene</text>
<text x="411" y="362.56" font-size="7.85">2,5-Dimethyl-3-ethylpyrazine</text>
<text x="411" y="370.22" font-size="7.85">3,5-Diethyl-2-methyl pyrazine</text>
<text x="411" y="377.87" font-size="7.85">2,3-Diethyl-5-methylpyrazine</text>
</g>
<text transform="translate(70.80,381.3) rotate(90)" font-size="7.2">H.1</text>
<text transform="translate(84.00,381.3) rotate(90)" font-size="7.2">H.2</text>
<text transform="translate(97.20,381.3) rotate(90)" font-size="7.2">H.3</text>
<text transform="translate(110.40,381.3) rotate(90)" font-size="7.2">H.4</text>
<text transform="translate(123.60,381.3) rotate(90)" font-size="7.2">H.5</text>
<text transform="translate(136.80,381.3) rotate(90)" font-size="7.2">H.6</text>
<text transform="translate(150.00,381.3) rotate(90)" font-size="7.2">H.7</text>
<text transform="translate(163.20,381.3) rotate(90)" font-size="7.2">HG.1</text>
<text transform="translate(176.40,381.3) rotate(90)" font-size="7.2">HG.2</text>
<text transform="translate(189.60,381.3) rotate(90)" font-size="7.2">HG.3</text>
<text transform="translate(202.80,381.3) rotate(90)" font-size="7.2">HG.4</text>
<text transform="translate(216.00,381.3) rotate(90)" font-size="7.2">Q.1</text>
<text transform="translate(229.20,381.3) rotate(90)" font-size="7.2">Q.2</text>
<text transform="translate(242.40,381.3) rotate(90)" font-size="7.2">Q.3</text>
<text transform="translate(255.60,381.3) rotate(90)" font-size="7.2">Q.4</text>
<text transform="translate(268.80,381.3) rotate(90)" font-size="7.2">Q.5</text>
<text transform="translate(282.00,381.3) rotate(90)" font-size="7.2">Q.6</text>
<text transform="translate(295.20,381.3) rotate(90)" font-size="7.2">Y.1</text>
<text transform="translate(308.40,381.3) rotate(90)" font-size="7.2">Y.2</text>
<text transform="translate(321.60,381.3) rotate(90)" font-size="7.2">Y.3</text>
<text transform="translate(334.80,381.3) rotate(90)" font-size="7.2">Y.4</text>
<text transform="translate(348.00,381.3) rotate(90)" font-size="7.2">Y.5</text>
<text transform="translate(361.20,381.3) rotate(90)" font-size="7.2">Y.6</text>
<text transform="translate(374.40,381.3) rotate(90)" font-size="7.2">Y.7</text>
<text transform="translate(387.60,381.3) rotate(90)" font-size="7.2">Y.8</text>
<text transform="translate(400.80,381.3) rotate(90)" font-size="7.2">Y.9</text>
<path d="M66.10 23.23H53.60V30.88H66.10 M66.10 38.54H54.00V46.19H66.10 M66.10 61.50H52.10V69.16H66.10 M66.10 53.85H49.60V65.33H52.10 M54.00 42.37H45.10V59.59H49.60 M53.60 27.06H42.40V50.98H45.10 M66.10 92.13H64.20V99.78H66.10 M66.10 84.47H62.70V95.95H64.20 M66.10 76.81H54.00V90.21H62.70 M66.10 107.44H53.60V115.09H66.10 M54.00 83.51H44.00V111.26H53.60 M66.10 122.75H61.80V130.40H66.10 M66.10 138.06H54.00V145.71H66.10 M61.80 126.57H49.10V141.89H54.00 M66.10 161.02H62.50V168.68H66.10 M66.10 153.37H53.30V164.85H62.50 M66.10 191.64H65.20V199.30H66.10 M66.10 183.99H64.60V195.47H65.20 M66.10 176.33H54.00V189.73H64.60 M66.10 222.27H57.80V229.92H66.10 M66.10 214.61H53.50V226.09H57.80 M66.10 206.96H48.30V220.35H53.50 M54.00 183.03H46.50V213.65H48.30 M53.30 159.11H45.40V198.34H46.50 M49.10 134.23H41.80V178.73H45.40 M66.10 252.89H56.30V260.54H66.10 M66.10 245.23H55.80V256.71H56.30 M66.10 237.58H52.90V250.97H55.80 M66.10 275.85H52.90V283.51H66.10 M66.10 268.20H50.50V279.68H52.90 M52.90 244.28H48.60V273.94H50.50 M66.10 298.82H56.20V306.47H66.10 M66.10 291.16H50.80V302.65H56.20 M66.10 367.72H64.60V375.37H66.10 M66.10 360.06H63.70V371.54H64.60 M66.10 352.41H62.20V365.80H63.70 M66.10 344.75H61.00V359.10H62.20 M66.10 337.10H57.00V351.93H61.00 M66.10 329.44H56.30V344.51H57.00 M66.10 321.79H50.80V336.98H56.30 M66.10 314.13H47.60V329.38H50.80 M50.80 296.91H44.10V321.76H47.60 M48.60 259.11H42.10V309.33H44.10 M41.80 156.48H39.70V284.22H42.10 M44.00 97.39H39.20V220.35H39.70 M42.40 39.02H36.80V158.87H39.20" fill="none" stroke="#1a1a1a" stroke-width="0.85"/>
</svg></body></html>
